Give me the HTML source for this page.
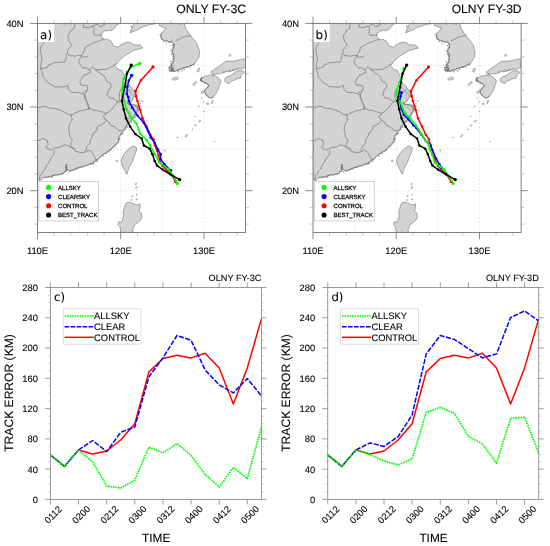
<!DOCTYPE html>
<html lang="en">
<head>
<meta charset="utf-8">
<title>Typhoon track comparison</title>
<style>
html,body{margin:0;padding:0;background:#fff;}
body{width:550px;height:546px;overflow:hidden;}
svg{display:block;}
.t{font-family:"Liberation Sans",Arial,Helvetica,sans-serif;text-rendering:geometricPrecision;fill:#000;stroke:#000;stroke-width:0.1px;}
.dj{font-family:"DejaVu Sans",Verdana,sans-serif;text-rendering:geometricPrecision;fill:#000;stroke:#000;stroke-width:0.08px;}
</style>
</head>
<body>
<svg width="550" height="546" viewBox="0 0 550 546">
<rect width="550" height="546" fill="#fff"/>
<g transform="translate(0,0)">
<clipPath id="clipa"><rect x="37.5" y="23.4" width="208.1" height="209.1"/></clipPath>
<g clip-path="url(#clipa)">
<path d="M79.1,23.4 V232.5 M120.7,23.4 V232.5 M162.4,23.4 V232.5 M204.0,23.4 V232.5 M37.5,190.7 H245.6 M37.5,148.9 H245.6 M37.5,107.0 H245.6 M37.5,65.2 H245.6" stroke="#d9d9d9" stroke-width="0.6" stroke-dasharray="2 1.8" fill="none"/>
<path d="M37.4,23.5 L39.8,23.4 L41.1,23.5 L42.6,23.4 L44.9,23.7 L46.1,23.2 L47.9,23.7 L50.3,22.9 L52.4,23.9 L53.9,23.5 L55.1,22.9 L57.4,22.9 L58.8,23.1 L60.4,23.4 L62.7,23.8 L64.6,23.6 L66.3,23.6 L68.1,23.2 L70.5,23.9 L72.1,23.6 L73.3,23.1 L75.1,22.9 L77.4,23.3 L79.3,23.3 L81.3,23.8 L82.0,23.1 L84.8,23.4 L86.7,23.3 L87.5,23.5 L90.1,23.1 L91.1,23.2 L93.9,23.7 L94.7,23.1 L96.5,22.9 L99.1,23.0 L100.6,23.3 L102.0,23.7 L103.8,23.6 L105.6,23.3 L107.5,23.1 L110.1,23.7 L111.2,23.8 L112.9,23.3 L115.4,23.6 L116.4,23.9 L118.3,23.1 L120.7,23.2 L118.2,24.2 L116.0,26.0 L115.2,27.5 L114.3,28.8 L112.9,29.6 L110.5,30.7 L108.1,30.1 L107.0,31.0 L104.3,30.6 L103.3,32.3 L101.1,33.3 L101.2,36.1 L102.6,38.2 L104.7,39.4 L107.5,39.4 L110.7,40.9 L112.4,43.5 L113.8,46.5 L115.7,46.3 L118.2,47.3 L120.7,44.8 L123.3,43.7 L124.6,42.8 L127.3,42.3 L129.2,42.3 L131.6,43.0 L133.3,44.8 L135.9,44.9 L137.5,45.1 L139.2,44.8 L141.3,46.1 L142.6,48.1 L139.4,48.9 L137.9,49.4 L135.8,50.0 L133.6,50.2 L132.5,51.2 L130.9,52.0 L129.3,53.2 L127.2,53.9 L126.2,55.0 L124.1,56.2 L123.0,57.3 L121.1,58.7 L119.5,60.5 L117.3,62.2 L116.7,64.0 L114.5,65.4 L116.5,67.5 L118.6,69.8 L121.6,70.3 L122.4,72.3 L123.7,74.1 L124.7,76.2 L125.3,78.5 L125.6,79.4 L126.8,82.3 L127.8,83.9 L130.2,86.1 L131.3,88.0 L132.6,89.1 L133.9,90.2 L135.6,93.6 L135.1,95.7 L134.0,97.2 L132.7,99.1 L131.8,100.9 L130.0,102.4 L127.4,102.6 L129.7,104.4 L132.8,104.5 L135.1,105.4 L136.7,106.7 L139.1,108.4 L137.3,109.6 L137.3,111.3 L136.3,113.5 L135.1,115.4 L133.7,116.3 L133.1,117.9 L132.4,119.7 L130.5,121.1 L129.0,123.3 L127.2,125.3 L126.0,127.9 L124.5,129.4 L122.9,130.9 L121.1,132.9 L120.6,134.4 L118.8,136.5 L119.1,138.8 L118.8,141.2 L117.6,142.8 L117.2,143.6 L115.3,145.9 L112.5,147.2 L111.1,149.4 L109.0,150.6 L107.6,152.1 L105.8,153.1 L103.5,154.0 L101.6,156.0 L100.0,157.4 L97.9,159.2 L97.1,160.6 L95.0,161.7 L92.5,163.2 L91.1,163.5 L88.3,164.5 L87.2,165.5 L85.4,165.3 L84.0,166.0 L81.5,166.8 L78.4,168.1 L76.5,168.0 L75.2,169.3 L73.9,169.9 L72.0,170.3 L70.1,170.5 L66.2,169.5 L66.1,167.3 L66.4,164.6 L66.4,166.6 L65.7,168.3 L66.2,170.7 L63.9,172.3 L63.1,173.6 L60.4,173.9 L58.1,174.9 L55.6,174.7 L53.4,175.5 L50.2,176.5 L47.9,176.8 L45.5,177.0 L42.7,178.0 L41.5,179.2 L39.0,179.3 L37.2,179.9 L37.8,180.4 L37.5,178.0 L37.2,176.5 L38.0,174.2 L37.8,172.3 L37.2,170.7 L37.7,169.0 L37.3,167.5 L37.1,165.9 L37.1,163.8 L37.2,161.7 L37.5,160.1 L37.4,158.3 L37.5,156.2 L37.2,154.9 L37.7,153.0 L37.9,151.3 L37.9,149.1 L37.8,147.9 L37.9,145.6 L37.3,144.5 L37.2,142.7 L37.9,140.0 L37.2,138.8 L37.2,136.4 L37.9,134.9 L37.8,132.8 L37.4,131.6 L37.0,129.3 L37.7,128.3 L38.0,125.6 L37.5,124.5 L37.5,122.6 L37.2,120.1 L37.1,118.3 L37.6,117.0 L37.6,114.8 L37.2,113.1 L37.9,112.1 L38.0,109.4 L37.0,108.5 L37.5,106.5 L37.3,104.4 L37.5,102.5 L37.6,100.3 L37.7,99.4 L37.1,97.1 L37.8,95.3 L37.2,93.2 L37.5,91.3 L37.9,90.3 L37.7,88.6 L37.6,86.3 L37.6,84.6 L38.0,83.1 L37.2,81.5 L37.8,79.5 L37.8,77.3 L37.9,76.0 L37.7,74.1 L37.8,71.9 L37.7,69.7 L37.3,68.4 L37.0,66.4 L37.7,64.9 L37.2,63.5 L37.7,61.0 L37.7,59.5 L37.5,57.5 L38.0,56.0 L37.7,54.3 L38.0,51.7 L37.6,50.7 L37.2,48.5 L37.0,46.5 L37.4,44.6 L37.2,43.6 L37.6,41.4 L38.0,39.7 L38.0,38.0 L37.8,35.5 L37.6,34.5 L37.0,32.9 L37.1,30.6 L37.1,28.8 L37.6,26.5 L38.0,25.1Z M134.3,23.5 L133.1,25.4 L132.0,28.2 L131.1,30.6 L130.1,32.9 L133.5,31.3 L136.0,30.5 L138.5,29.5 L140.3,27.9 L142.8,27.0 L144.7,26.3 L147.3,25.6 L149.1,24.7 L151.1,24.6 L153.1,24.1 L155.1,23.8 L156.9,23.6 L155.1,23.3 L152.9,23.4 L151.6,23.2 L149.5,23.5 L147.4,23.2 L145.8,23.4 L143.8,23.4 L141.7,23.5 L140.2,23.4 L138.1,23.6 L136.6,23.4Z M159.2,23.6 L159.0,25.4 L160.3,26.0 L162.5,26.7 L165.5,27.8 L164.7,29.8 L163.6,31.4 L161.1,33.9 L160.4,36.3 L161.7,39.4 L164.4,40.4 L168.1,41.3 L169.3,42.5 L171.7,42.0 L174.1,44.1 L173.8,46.2 L172.5,48.6 L172.4,51.8 L173.8,54.9 L173.9,58.8 L172.8,61.6 L171.8,64.9 L170.9,67.6 L171.9,71.1 L174.7,71.5 L176.7,70.5 L180.2,69.6 L182.8,67.8 L185.0,67.5 L187.4,66.8 L188.5,66.5 L190.8,65.5 L192.5,64.5 L194.6,63.9 L195.6,62.0 L197.0,60.6 L197.8,58.6 L199.0,57.3 L199.1,55.2 L199.6,53.1 L199.5,51.9 L199.2,50.0 L198.2,48.0 L197.8,45.3 L197.2,44.4 L195.5,42.2 L195.0,40.6 L193.2,38.7 L191.7,37.7 L191.4,36.5 L189.6,33.9 L188.1,33.1 L187.7,31.3 L186.1,29.6 L185.1,26.5 L184.3,24.0 L183.1,23.2 L180.7,23.9 L178.9,24.0 L177.3,23.7 L175.7,23.2 L173.4,23.3 L172.0,23.7 L169.7,23.9 L168.2,23.2 L166.4,23.9 L164.7,23.6 L163.2,23.9 L161.3,23.3Z M211.2,71.3 L213.3,70.4 L214.9,69.0 L216.4,68.0 L218.2,66.8 L219.6,65.8 L221.4,64.4 L223.7,62.9 L225.1,61.7 L227.1,61.1 L229.6,61.1 L231.8,61.0 L234.0,61.1 L235.7,60.7 L238.0,60.2 L240.1,59.6 L241.8,59.4 L243.6,59.0 L245.7,59.2 L245.8,61.2 L245.5,63.3 L245.3,65.3 L245.5,67.1 L243.3,68.3 L241.3,69.2 L239.6,69.1 L237.4,69.2 L235.5,69.7 L233.5,70.4 L231.5,70.9 L230.2,71.1 L228.1,71.8 L225.7,71.6 L224.3,72.7 L222.3,72.9 L219.6,73.6 L217.3,73.9 L214.7,74.3 L212.5,74.5 L211.1,73.4Z M201.5,77.7 L203.7,77.2 L205.4,76.2 L208.2,75.7 L210.5,75.1 L212.5,75.5 L214.3,75.4 L216.6,76.5 L218.2,77.8 L219.7,79.0 L220.9,80.9 L220.4,82.8 L220.1,84.5 L219.0,86.4 L218.6,88.4 L217.6,90.4 L216.5,92.5 L215.6,93.7 L214.6,95.6 L212.7,96.6 L211.5,98.1 L207.9,96.8 L206.6,95.7 L205.5,94.0 L204.4,90.8 L206.1,88.2 L207.6,87.0 L208.7,85.7 L206.8,83.4 L204.2,82.7 L201.7,80.8 L200.5,78.6Z M224.4,79.2 L225.8,78.0 L227.6,76.6 L229.5,76.1 L231.4,75.3 L232.9,73.6 L235.1,72.3 L236.8,71.3 L239.0,70.7 L240.9,70.7 L243.0,71.2 L244.4,72.4 L243.0,73.4 L241.4,74.9 L240.1,78.5 L238.3,78.4 L236.5,79.1 L234.3,80.1 L232.1,80.6 L230.6,82.3 L229.3,83.4 L226.6,82.7 L224.9,81.2Z M134.0,146.0 L136.7,147.9 L136.0,151.9 L135.3,153.8 L134.5,155.5 L133.7,157.7 L132.9,160.0 L132.0,162.2 L130.8,164.2 L130.1,166.0 L128.8,167.8 L128.4,169.7 L127.6,171.6 L127.0,174.3 L125.7,172.9 L124.6,169.9 L122.5,166.3 L122.1,164.7 L121.4,162.7 L121.2,160.0 L122.5,156.9 L124.3,153.8 L126.5,151.0 L129.1,148.6 L131.7,146.7Z M126.4,202.8 L129.9,202.1 L131.7,203.1 L133.6,203.6 L135.1,204.4 L137.4,205.0 L139.9,203.7 L140.1,207.4 L139.5,209.3 L138.9,211.1 L141.4,213.3 L141.9,216.7 L140.8,219.7 L139.2,221.4 L138.0,222.3 L136.0,223.7 L134.7,224.7 L133.3,227.8 L132.4,230.4 L133.2,232.2 L131.4,232.5 L129.7,232.6 L127.9,232.5 L126.3,232.1 L124.3,232.6 L122.5,232.2 L120.5,232.5 L120.4,230.2 L120.0,226.9 L117.9,224.5 L118.9,221.7 L121.2,222.6 L122.6,219.8 L122.9,218.1 L123.7,216.0 L123.4,214.2 L123.3,212.1 L123.4,210.5 L124.4,208.0 L125.1,205.2Z" fill="#d3d3d3" stroke="#7c7c7c" stroke-width="0.65" stroke-linejoin="round"/>
<ellipse cx="175.3" cy="78.6" rx="3.2" ry="1.4" transform="rotate(-12 175.3 78.6)" fill="#d3d3d3" stroke="#7c7c7c" stroke-width="0.45"/>
<ellipse cx="198.5" cy="70.0" rx="0.9" ry="2.4" transform="rotate(25 198.5 70.0)" fill="#d3d3d3" stroke="#7c7c7c" stroke-width="0.45"/>
<ellipse cx="194.7" cy="83.5" rx="0.9" ry="2.6" transform="rotate(45 194.7 83.5)" fill="#d3d3d3" stroke="#7c7c7c" stroke-width="0.45"/>
<ellipse cx="229.9" cy="55.4" rx="1.3" ry="0.8" transform="rotate(-30 229.9 55.4)" fill="#d3d3d3" stroke="#7c7c7c" stroke-width="0.45"/>
<ellipse cx="212.2" cy="101.9" rx="0.6" ry="2.0" transform="rotate(12 212.2 101.9)" fill="#d3d3d3" stroke="#7c7c7c" stroke-width="0.45"/>
<ellipse cx="207.8" cy="103.8" rx="1.2" ry="1.0" transform="rotate(0 207.8 103.8)" fill="#d3d3d3" stroke="#7c7c7c" stroke-width="0.45"/>
<ellipse cx="202.3" cy="92.3" rx="1.4" ry="1.0" transform="rotate(-30 202.3 92.3)" fill="#d3d3d3" stroke="#7c7c7c" stroke-width="0.45"/>
<ellipse cx="116.8" cy="160.8" rx="0.9" ry="0.9" transform="rotate(0 116.8 160.8)" fill="#d3d3d3" stroke="#7c7c7c" stroke-width="0.45"/>
<ellipse cx="136.0" cy="184.0" rx="0.5" ry="1.0" transform="rotate(20 136.0 184.0)" fill="#d3d3d3" stroke="#7c7c7c" stroke-width="0.45"/>
<ellipse cx="136.3" cy="187.6" rx="0.6" ry="1.1" transform="rotate(30 136.3 187.6)" fill="#d3d3d3" stroke="#7c7c7c" stroke-width="0.45"/>
<ellipse cx="132.2" cy="196.2" rx="0.7" ry="0.6" transform="rotate(0 132.2 196.2)" fill="#d3d3d3" stroke="#7c7c7c" stroke-width="0.45"/>
<ellipse cx="136.7" cy="194.9" rx="0.5" ry="0.5" transform="rotate(0 136.7 194.9)" fill="#d3d3d3" stroke="#7c7c7c" stroke-width="0.45"/>
<ellipse cx="131.5" cy="200.0" rx="0.6" ry="0.6" transform="rotate(0 131.5 200.0)" fill="#d3d3d3" stroke="#7c7c7c" stroke-width="0.45"/>
<ellipse cx="136.7" cy="199.4" rx="0.7" ry="0.6" transform="rotate(0 136.7 199.4)" fill="#d3d3d3" stroke="#7c7c7c" stroke-width="0.45"/>
<ellipse cx="137.3" cy="106.8" rx="1.6" ry="1.2" transform="rotate(30 137.3 106.8)" fill="#d3d3d3" stroke="#7c7c7c" stroke-width="0.45"/>
<ellipse cx="171.0" cy="69.4" rx="2.0" ry="2.2" transform="rotate(0 171.0 69.4)" fill="#d3d3d3" stroke="#7c7c7c" stroke-width="0.45"/>
<ellipse cx="132.2" cy="27.7" rx="0.8" ry="0.6" transform="rotate(0 132.2 27.7)" fill="#d3d3d3" stroke="#7c7c7c" stroke-width="0.45"/>
<ellipse cx="186.3" cy="135.8" rx="0.7" ry="1.6" transform="rotate(40 186.3 135.8)" fill="#d3d3d3" stroke="#7c7c7c" stroke-width="0.45"/>
<ellipse cx="214.6" cy="141.5" rx="0.5" ry="0.4" transform="rotate(0 214.6 141.5)" fill="#d3d3d3" stroke="#7c7c7c" stroke-width="0.45"/>
<ellipse cx="177.6" cy="137.6" rx="0.6" ry="0.45" transform="rotate(0 177.6 137.6)" fill="#d3d3d3" stroke="#7c7c7c" stroke-width="0.45"/>
<ellipse cx="199.8" cy="121.2" rx="1.3" ry="0.6" transform="rotate(-35 199.8 121.2)" fill="#d3d3d3" stroke="#7c7c7c" stroke-width="0.45"/>
<ellipse cx="195.6" cy="125.4" rx="0.6" ry="0.8" transform="rotate(0 195.6 125.4)" fill="#d3d3d3" stroke="#7c7c7c" stroke-width="0.45"/>
<ellipse cx="192.5" cy="129.3" rx="0.5" ry="0.5" transform="rotate(0 192.5 129.3)" fill="#d3d3d3" stroke="#7c7c7c" stroke-width="0.45"/>
<ellipse cx="164.8" cy="150.5" rx="0.8" ry="0.5" transform="rotate(-20 164.8 150.5)" fill="#d3d3d3" stroke="#7c7c7c" stroke-width="0.45"/>
<ellipse cx="201.7" cy="98.0" rx="0.45" ry="0.45" transform="rotate(0 201.7 98.0)" fill="#d3d3d3" stroke="#7c7c7c" stroke-width="0.45"/>
<ellipse cx="203.6" cy="102.0" rx="0.4" ry="0.4" transform="rotate(0 203.6 102.0)" fill="#d3d3d3" stroke="#7c7c7c" stroke-width="0.45"/>
<ellipse cx="199.0" cy="106.4" rx="0.4" ry="0.4" transform="rotate(0 199.0 106.4)" fill="#d3d3d3" stroke="#7c7c7c" stroke-width="0.45"/>
<ellipse cx="204.0" cy="111.5" rx="0.4" ry="0.4" transform="rotate(0 204.0 111.5)" fill="#d3d3d3" stroke="#7c7c7c" stroke-width="0.45"/>
<ellipse cx="195.0" cy="116.7" rx="0.45" ry="0.4" transform="rotate(0 195.0 116.7)" fill="#d3d3d3" stroke="#7c7c7c" stroke-width="0.45"/>
<g fill="#808080"><circle cx="128.0" cy="102.7" r="0.62"/><circle cx="128.9" cy="103.8" r="0.65"/><circle cx="131.0" cy="103.6" r="0.40"/><circle cx="134.3" cy="103.4" r="0.39"/><circle cx="135.7" cy="105.3" r="0.43"/><circle cx="136.7" cy="104.6" r="0.43"/><circle cx="138.0" cy="106.5" r="0.73"/><circle cx="139.6" cy="109.4" r="0.75"/><circle cx="138.3" cy="112.0" r="0.61"/><circle cx="137.2" cy="113.6" r="0.43"/><circle cx="135.6" cy="115.3" r="0.48"/><circle cx="135.2" cy="117.6" r="0.73"/><circle cx="131.3" cy="122.4" r="0.57"/><circle cx="129.5" cy="124.8" r="0.59"/><circle cx="127.3" cy="127.5" r="0.61"/><circle cx="125.7" cy="129.7" r="0.53"/><circle cx="123.6" cy="132.9" r="0.40"/><circle cx="122.2" cy="133.9" r="0.69"/><circle cx="119.8" cy="138.7" r="0.60"/><circle cx="118.8" cy="139.7" r="0.64"/><circle cx="115.5" cy="147.2" r="0.49"/><circle cx="113.9" cy="146.8" r="0.42"/><circle cx="113.6" cy="148.5" r="0.37"/><circle cx="110.9" cy="150.6" r="0.47"/><circle cx="109.1" cy="151.7" r="0.56"/><circle cx="106.5" cy="153.6" r="0.53"/><circle cx="103.2" cy="155.9" r="0.65"/><circle cx="97.2" cy="159.5" r="0.52"/><circle cx="96.9" cy="160.2" r="0.52"/><circle cx="93.5" cy="163.5" r="0.68"/><circle cx="92.5" cy="164.3" r="0.45"/><circle cx="90.5" cy="164.2" r="0.51"/><circle cx="88.6" cy="164.8" r="0.49"/><circle cx="85.2" cy="165.8" r="0.45"/><circle cx="79.6" cy="167.3" r="0.54"/><circle cx="77.9" cy="167.8" r="0.35"/><circle cx="76.5" cy="168.9" r="0.72"/><circle cx="73.8" cy="169.7" r="0.59"/><circle cx="71.0" cy="171.4" r="0.43"/><circle cx="68.1" cy="171.9" r="0.62"/><circle cx="65.4" cy="167.3" r="0.57"/><circle cx="65.0" cy="165.6" r="0.45"/><circle cx="67.0" cy="167.5" r="0.48"/><circle cx="66.0" cy="171.0" r="0.75"/><circle cx="64.9" cy="171.7" r="0.37"/><circle cx="63.5" cy="173.5" r="0.41"/><circle cx="61.5" cy="174.5" r="0.54"/><circle cx="54.0" cy="175.2" r="0.69"/><circle cx="52.5" cy="177.1" r="0.48"/><circle cx="51.5" cy="177.4" r="0.62"/><circle cx="48.3" cy="177.3" r="0.51"/><circle cx="41.1" cy="180.0" r="0.53"/><circle cx="39.9" cy="180.6" r="0.70"/><circle cx="38.4" cy="179.8" r="0.49"/><circle cx="134.7" cy="90.4" r="0.71"/><circle cx="136.6" cy="95.5" r="0.56"/><circle cx="131.2" cy="100.8" r="0.35"/><circle cx="159.3" cy="34.7" r="0.46"/><circle cx="163.6" cy="41.4" r="0.55"/><circle cx="166.1" cy="43.3" r="0.60"/><circle cx="168.1" cy="42.8" r="0.37"/><circle cx="172.2" cy="45.2" r="0.57"/><circle cx="171.8" cy="45.6" r="0.46"/><circle cx="172.2" cy="46.7" r="0.40"/><circle cx="173.1" cy="47.7" r="0.35"/><circle cx="172.1" cy="49.2" r="0.42"/><circle cx="170.7" cy="50.2" r="0.65"/><circle cx="172.3" cy="52.3" r="0.40"/><circle cx="172.6" cy="53.9" r="0.43"/><circle cx="173.0" cy="56.5" r="0.54"/><circle cx="172.4" cy="58.1" r="0.47"/><circle cx="173.3" cy="59.0" r="0.66"/><circle cx="173.2" cy="61.6" r="0.57"/><circle cx="170.9" cy="61.5" r="0.63"/><circle cx="170.9" cy="63.7" r="0.36"/><circle cx="170.0" cy="65.5" r="0.54"/><circle cx="170.8" cy="67.2" r="0.70"/><circle cx="171.6" cy="71.3" r="0.67"/><circle cx="174.4" cy="71.4" r="0.63"/><circle cx="178.4" cy="71.7" r="0.74"/><circle cx="182.1" cy="70.7" r="0.70"/><circle cx="184.4" cy="69.6" r="0.60"/><circle cx="186.0" cy="67.5" r="0.58"/><circle cx="187.4" cy="66.9" r="0.73"/><circle cx="190.1" cy="67.5" r="0.58"/><circle cx="193.7" cy="64.9" r="0.72"/><circle cx="207.3" cy="95.1" r="0.47"/><circle cx="206.2" cy="94.8" r="0.46"/><circle cx="205.5" cy="89.9" r="0.57"/><circle cx="205.1" cy="82.7" r="0.56"/><circle cx="201.4" cy="79.8" r="0.68"/><circle cx="237.7" cy="68.6" r="0.65"/><circle cx="234.3" cy="69.5" r="0.58"/><circle cx="227.6" cy="71.3" r="0.36"/><circle cx="225.6" cy="71.7" r="0.41"/><circle cx="224.3" cy="71.3" r="0.38"/><circle cx="223.0" cy="71.7" r="0.57"/><circle cx="213.0" cy="73.2" r="0.55"/><circle cx="131.3" cy="26.3" r="0.72"/><circle cx="130.9" cy="30.8" r="0.64"/></g>
<clipPath id="landa"><path d="M37.4,23.5 L39.8,23.4 L41.1,23.5 L42.6,23.4 L44.9,23.7 L46.1,23.2 L47.9,23.7 L50.3,22.9 L52.4,23.9 L53.9,23.5 L55.1,22.9 L57.4,22.9 L58.8,23.1 L60.4,23.4 L62.7,23.8 L64.6,23.6 L66.3,23.6 L68.1,23.2 L70.5,23.9 L72.1,23.6 L73.3,23.1 L75.1,22.9 L77.4,23.3 L79.3,23.3 L81.3,23.8 L82.0,23.1 L84.8,23.4 L86.7,23.3 L87.5,23.5 L90.1,23.1 L91.1,23.2 L93.9,23.7 L94.7,23.1 L96.5,22.9 L99.1,23.0 L100.6,23.3 L102.0,23.7 L103.8,23.6 L105.6,23.3 L107.5,23.1 L110.1,23.7 L111.2,23.8 L112.9,23.3 L115.4,23.6 L116.4,23.9 L118.3,23.1 L120.7,23.2 L118.2,24.2 L116.0,26.0 L115.2,27.5 L114.3,28.8 L112.9,29.6 L110.5,30.7 L108.1,30.1 L107.0,31.0 L104.3,30.6 L103.3,32.3 L101.1,33.3 L101.2,36.1 L102.6,38.2 L104.7,39.4 L107.5,39.4 L110.7,40.9 L112.4,43.5 L113.8,46.5 L115.7,46.3 L118.2,47.3 L120.7,44.8 L123.3,43.7 L124.6,42.8 L127.3,42.3 L129.2,42.3 L131.6,43.0 L133.3,44.8 L135.9,44.9 L137.5,45.1 L139.2,44.8 L141.3,46.1 L142.6,48.1 L139.4,48.9 L137.9,49.4 L135.8,50.0 L133.6,50.2 L132.5,51.2 L130.9,52.0 L129.3,53.2 L127.2,53.9 L126.2,55.0 L124.1,56.2 L123.0,57.3 L121.1,58.7 L119.5,60.5 L117.3,62.2 L116.7,64.0 L114.5,65.4 L116.5,67.5 L118.6,69.8 L121.6,70.3 L122.4,72.3 L123.7,74.1 L124.7,76.2 L125.3,78.5 L125.6,79.4 L126.8,82.3 L127.8,83.9 L130.2,86.1 L131.3,88.0 L132.6,89.1 L133.9,90.2 L135.6,93.6 L135.1,95.7 L134.0,97.2 L132.7,99.1 L131.8,100.9 L130.0,102.4 L127.4,102.6 L129.7,104.4 L132.8,104.5 L135.1,105.4 L136.7,106.7 L139.1,108.4 L137.3,109.6 L137.3,111.3 L136.3,113.5 L135.1,115.4 L133.7,116.3 L133.1,117.9 L132.4,119.7 L130.5,121.1 L129.0,123.3 L127.2,125.3 L126.0,127.9 L124.5,129.4 L122.9,130.9 L121.1,132.9 L120.6,134.4 L118.8,136.5 L119.1,138.8 L118.8,141.2 L117.6,142.8 L117.2,143.6 L115.3,145.9 L112.5,147.2 L111.1,149.4 L109.0,150.6 L107.6,152.1 L105.8,153.1 L103.5,154.0 L101.6,156.0 L100.0,157.4 L97.9,159.2 L97.1,160.6 L95.0,161.7 L92.5,163.2 L91.1,163.5 L88.3,164.5 L87.2,165.5 L85.4,165.3 L84.0,166.0 L81.5,166.8 L78.4,168.1 L76.5,168.0 L75.2,169.3 L73.9,169.9 L72.0,170.3 L70.1,170.5 L66.2,169.5 L66.1,167.3 L66.4,164.6 L66.4,166.6 L65.7,168.3 L66.2,170.7 L63.9,172.3 L63.1,173.6 L60.4,173.9 L58.1,174.9 L55.6,174.7 L53.4,175.5 L50.2,176.5 L47.9,176.8 L45.5,177.0 L42.7,178.0 L41.5,179.2 L39.0,179.3 L37.2,179.9 L37.8,180.4 L37.5,178.0 L37.2,176.5 L38.0,174.2 L37.8,172.3 L37.2,170.7 L37.7,169.0 L37.3,167.5 L37.1,165.9 L37.1,163.8 L37.2,161.7 L37.5,160.1 L37.4,158.3 L37.5,156.2 L37.2,154.9 L37.7,153.0 L37.9,151.3 L37.9,149.1 L37.8,147.9 L37.9,145.6 L37.3,144.5 L37.2,142.7 L37.9,140.0 L37.2,138.8 L37.2,136.4 L37.9,134.9 L37.8,132.8 L37.4,131.6 L37.0,129.3 L37.7,128.3 L38.0,125.6 L37.5,124.5 L37.5,122.6 L37.2,120.1 L37.1,118.3 L37.6,117.0 L37.6,114.8 L37.2,113.1 L37.9,112.1 L38.0,109.4 L37.0,108.5 L37.5,106.5 L37.3,104.4 L37.5,102.5 L37.6,100.3 L37.7,99.4 L37.1,97.1 L37.8,95.3 L37.2,93.2 L37.5,91.3 L37.9,90.3 L37.7,88.6 L37.6,86.3 L37.6,84.6 L38.0,83.1 L37.2,81.5 L37.8,79.5 L37.8,77.3 L37.9,76.0 L37.7,74.1 L37.8,71.9 L37.7,69.7 L37.3,68.4 L37.0,66.4 L37.7,64.9 L37.2,63.5 L37.7,61.0 L37.7,59.5 L37.5,57.5 L38.0,56.0 L37.7,54.3 L38.0,51.7 L37.6,50.7 L37.2,48.5 L37.0,46.5 L37.4,44.6 L37.2,43.6 L37.6,41.4 L38.0,39.7 L38.0,38.0 L37.8,35.5 L37.6,34.5 L37.0,32.9 L37.1,30.6 L37.1,28.8 L37.6,26.5 L38.0,25.1Z"/></clipPath>
<path d="M137.1,97.4 L137.8,98.5 L137.1,99.6 L135.8,99.4 M130.4,105.5 L130.7,104.2 L129.7,103.3 L130.1,102.1 M129.6,114.5 L128.6,115.3 L128.1,116.5 L128.8,117.6 L128.6,118.9 L128.4,120.2 L129.0,121.3 M129.8,88.8 L129.9,90.1 L129.9,91.4 L131.0,92.2 L131.3,93.4 L130.9,94.7 L131.4,95.9 M131.4,89.1 L131.3,87.8 L132.1,86.7 L133.3,86.9 M130.8,107.9 L131.6,107.0 L132.5,106.0 L133.8,106.0 M136.8,100.1 L135.5,100.3 L134.2,100.6 L133.0,100.2 L132.3,99.1 M132.1,119.2 L133.2,119.8 L133.8,121.0 L133.5,122.3 L133.5,123.6 L134.2,124.7 L134.9,125.8 M134.3,103.1 L133.0,103.0 L131.7,102.8 L131.0,103.8 M133.3,98.4 L134.0,97.3 L133.5,96.1 L132.8,95.0 L133.0,93.7 L133.9,92.7 L133.4,91.5 M127.6,89.1 L128.8,89.6 L128.8,90.9 L129.9,91.6 M137.8,94.4 L138.9,95.0 L140.1,94.6 L140.3,93.3 M137.9,109.5 L138.0,108.2 L137.5,107.0 L137.9,105.8 L137.2,104.7 L136.8,103.5 L135.8,102.6 M130.8,101.9 L132.1,102.1 L132.8,101.0 L132.4,99.7 L131.2,99.4 L130.7,98.1 L130.3,96.9 M135.6,113.3 L136.8,113.9 L137.0,115.2 L137.1,116.5 L136.2,117.5 L135.6,118.7 L134.4,118.9 M135.3,115.6 L134.2,116.2 L133.4,117.3 L132.1,117.2 M136.8,120.0 L138.0,119.5 L139.3,119.8 L140.3,120.6 L141.5,121.1 L142.7,121.7 L142.7,123.0 M130.6,120.0 L131.8,120.3 L133.1,119.9 L133.5,118.6 L132.8,117.5 L133.4,116.4 M135.9,93.4 L136.5,92.3 L137.8,92.1 L138.6,93.1 M128.9,110.2 L129.4,111.4 L130.4,112.3 L130.8,113.6 L130.5,114.8 M134.5,99.2 L134.2,97.9 L133.8,96.7 L133.8,95.4 L134.8,94.5 L134.4,93.2 M136.5,91.2 L135.5,92.1 L135.7,93.4 L136.3,94.6 M129.0,118.2 L129.1,116.9 L130.2,116.3 L131.5,116.1 L132.6,116.9 L133.5,117.8 M135.5,88.4 L134.3,88.0 L133.3,88.8 L132.0,89.0 L131.1,89.9 L130.1,90.7 L128.8,90.8 M131.4,94.0 L130.7,93.0 L129.7,92.1 L129.0,91.0 L128.6,89.8 L127.4,89.2 L126.7,88.1 M130.0,107.5 L131.3,107.9 L132.6,107.7 L133.3,108.8 L134.1,109.8 L135.0,110.8" fill="none" stroke="#9a9a9a" stroke-width="0.5" clip-path="url(#landa)"/>
<path d="M127.4,102.6 L128.2,104.4 L129.9,104.9 L131.0,104.4 L132.3,104.7 L133.5,104.8 L134.6,104.9 L134.5,104.9 L136.3,105.4 L137.1,106.5 L137.1,107.8 L137.9,109.1 L138.5,109.2 L137.8,111.0 L136.3,112.1 L135.8,113.5 L136.1,114.7 L134.6,114.8 L134.7,116.4 L133.4,117.9 L133.6,118.1 L131.8,119.7 L131.5,120.8 L130.9,121.4 L129.2,122.0 L128.8,123.7 L127.9,124.6 L127.2,125.7 L126.8,125.8 L125.4,126.3 L124.7,128.4 L125.4,129.2 L123.7,129.9 L123.1,131.1 L123.2,131.7 L122.4,132.0 L122.1,133.6 L120.6,133.8 L120.7,135.1 L119.6,135.7 L119.8,136.4 L118.6,138.0 L118.6,139.4 L118.5,140.5 L118.5,141.5 L118.4,142.3 L117.0,142.5 L116.1,143.6 L116.3,144.1 L114.8,145.5 L113.9,145.8 L113.3,146.9 L112.3,148.0 L112.1,148.4 L111.1,148.9 L110.8,150.3 L109.6,149.8 L108.3,151.8 L107.4,151.8 L106.5,152.0 L105.6,153.5 L103.7,153.7 L103.5,154.1 L102.6,155.6 L102.0,155.3 L100.1,156.9 L100.0,157.7 L99.6,157.7 L98.3,158.5 L97.8,159.7 L96.2,160.1 L95.9,160.3 L94.5,161.4 L93.2,162.0 L93.4,163.2 L91.1,163.7 L91.1,164.0 L89.1,164.5 L88.3,165.1 L87.5,164.8 L86.3,165.9 L85.3,166.3 L84.7,165.6 L83.9,166.5 L82.0,167.2 L81.3,166.3 L81.0,167.6 L79.4,167.1 L78.6,167.9 L77.9,168.2 L76.7,168.9 L75.1,168.5 L74.5,169.7 L74.0,170.2 L72.4,170.3 L71.0,170.2 L69.9,171.2 L70.3,171.3 L68.9,170.3 L68.0,169.4 L66.3,169.3 L67.0,167.8 L65.8,166.4 L66.8,165.5 L66.8,164.3 L66.6,165.3 L66.6,167.6 L66.5,168.3 L66.5,169.8 L66.5,170.0 L65.5,171.5 L64.0,171.5 L64.0,172.7 L62.6,174.2 L61.5,173.6 L60.6,174.3 L58.9,174.9 L58.7,174.5 L57.5,175.4 L56.1,174.7 L55.2,174.9 L53.6,175.9 L52.6,174.9 L52.4,176.5 L50.6,175.9 L49.9,176.7 L48.1,176.8 L47.4,177.4 L46.7,177.7 L45.7,177.6 L44.0,177.1 L43.4,177.6 L42.7,178.1 M161.6,32.8 L160.8,34.4 L161.1,36.2 L161.8,36.5 L161.6,37.5 L161.7,39.2 L162.7,39.4 L164.8,40.6 L165.3,41.1 L167.2,40.7 L168.2,42.1 L168.9,41.5 L171.0,42.0 L171.1,41.8 L173.1,43.2 L174.0,44.0 L174.0,45.7 L174.0,46.4 L174.0,47.7 L173.4,48.9 L173.0,49.3 L172.1,50.7 L171.7,51.7 L172.2,52.9 L173.4,54.0 L173.4,54.9 L173.5,57.0 L174.2,57.6 L173.7,58.8 L173.3,59.4 L174.0,60.8 L173.0,62.0 L173.0,63.2 L171.7,63.2 L171.4,64.6 L171.1,66.6 L171.8,66.8 L171.2,68.0 L171.9,69.3 L171.4,70.2 L173.0,70.6 L174.3,71.9 L175.4,70.6 L177.5,70.6 L177.3,69.6 L178.4,70.0 L180.4,69.3 L180.5,68.8 L182.8,68.6 L183.9,68.6 L183.5,68.1 L185.4,67.5 L185.8,67.3 L186.6,66.7 L188.0,67.1 L189.5,65.8 L190.0,65.4 L191.5,66.0 L191.6,65.2 L193.0,64.1 L194.1,64.1 L194.7,63.6 M213.9,95.7 L213.3,96.1 L213.1,97.2 L212.0,97.4 L210.7,98.0 L210.1,98.1 L209.2,97.5 L208.0,96.4 L207.7,96.3 L206.2,94.6 L205.5,94.2 L205.4,93.2 L204.6,92.2 L204.1,90.5 L204.3,90.7 L205.9,89.1 L206.7,88.5 L206.6,88.1 L208.0,87.3 L208.9,85.4 L208.2,85.4 L207.9,84.0 L206.8,83.5 L205.1,83.4 L204.5,82.2 L203.5,81.9 L202.2,81.6 L202.3,80.9 L200.6,79.8 L200.7,79.3 L201.7,77.6" fill="none" stroke="#757575" stroke-width="0.8" stroke-linejoin="round"/>
<g fill="#6e6e6e"><circle cx="171.7" cy="69.3" r="0.81"/><circle cx="173.0" cy="69.3" r="0.87"/><circle cx="169.3" cy="67.5" r="0.87"/><circle cx="171.8" cy="70.4" r="0.50"/><circle cx="171.1" cy="66.1" r="0.69"/><circle cx="171.5" cy="64.6" r="0.55"/><circle cx="170.3" cy="70.5" r="0.79"/><circle cx="169.8" cy="69.7" r="0.51"/><circle cx="171.7" cy="65.3" r="0.45"/><circle cx="172.7" cy="65.9" r="0.55"/><circle cx="173.1" cy="70.2" r="0.58"/><circle cx="173.0" cy="68.0" r="0.76"/><circle cx="170.0" cy="70.6" r="0.76"/><circle cx="173.1" cy="70.3" r="0.58"/><circle cx="173.9" cy="54.8" r="0.52"/><circle cx="172.3" cy="40.0" r="0.58"/><circle cx="172.9" cy="53.7" r="0.48"/><circle cx="173.8" cy="44.9" r="0.63"/><circle cx="173.7" cy="47.5" r="0.54"/><circle cx="173.5" cy="43.5" r="0.54"/><circle cx="173.9" cy="44.8" r="0.63"/><circle cx="173.6" cy="55.2" r="0.47"/><circle cx="171.8" cy="54.4" r="0.63"/><circle cx="201.5" cy="78.3" r="0.74"/><circle cx="200.7" cy="80.2" r="0.61"/><circle cx="200.7" cy="80.0" r="0.47"/><circle cx="201.8" cy="77.8" r="0.49"/><circle cx="201.8" cy="81.6" r="0.51"/><circle cx="201.2" cy="80.6" r="0.88"/><circle cx="139.8" cy="106.7" r="0.44"/><circle cx="141.5" cy="100.6" r="0.49"/><circle cx="142.5" cy="101.5" r="0.62"/><circle cx="140.6" cy="103.2" r="0.57"/><circle cx="139.7" cy="105.8" r="0.43"/><circle cx="139.8" cy="100.1" r="0.49"/><circle cx="140.4" cy="106.3" r="0.53"/><circle cx="227.6" cy="70.9" r="0.40"/><circle cx="232.4" cy="70.0" r="0.53"/><circle cx="232.8" cy="70.2" r="0.54"/><circle cx="229.4" cy="70.1" r="0.48"/><circle cx="230.4" cy="71.1" r="0.60"/><circle cx="223.9" cy="70.6" r="0.39"/></g>
<path d="M74.9,23.9 L73.8,28.9 L70.8,30.5 L69.9,33.0 L67.7,35.9 L68.6,39.8 L69.3,41.1 L71.7,45.4 L67.9,49.4 L67.4,52.7 L69.1,55.6 L73.0,55.8 L75.1,56.4 L77.9,55.2 L81.1,55.7 L83.6,57.4 L88.2,56.3 M66.1,53.3 L66.5,56.3 L65.4,60.1 L64.8,62.0 L61.0,62.0 L56.9,62.6 L54.5,62.5 L52.4,63.8 L48.9,64.5 L47.8,67.0 L45.1,68.0 L40.4,68.6 M43.6,42.5 L40.4,48.0 L40.3,49.5 L40.7,52.7 L41.5,55.8 L42.0,59.3 L40.6,65.2 L40.7,69.3 L41.6,70.7 L42.6,74.6 L42.9,76.3 L45.1,79.4 L47.3,81.9 L49.4,83.6 L51.8,84.9 L54.0,86.7 L57.8,86.8 L62.6,87.1 L64.1,86.9 L67.9,85.4 L68.4,89.3 L71.7,92.4 L77.5,92.5 L82.2,93.6 L84.8,95.1 L85.5,97.6 L87.0,102.6 L88.2,106.1 L89.0,110.0 M103.7,39.8 L101.2,39.9 L97.4,41.7 L94.0,42.5 L90.1,44.7 L86.8,46.3 L84.8,47.7 L84.4,50.4 L82.8,53.3 L81.6,55.4 M83.6,24.2 L83.5,27.4 L88.5,27.7 L92.4,26.2 L94.2,28.6 L93.5,32.9 L94.7,35.4 L100.5,35.0 L102.2,34.8 M92.9,26.5 L97.0,24.1 L100.3,26.8 L101.8,26.1 L105.5,24.1 M82.0,54.9 L80.0,58.3 L78.6,61.4 L78.7,62.9 L80.7,65.4 L82.6,67.8 L86.5,68.0 L89.6,69.9 L92.3,67.0 L96.3,69.8 L99.9,69.6 L106.1,69.4 L110.2,67.6 L112.1,66.5 L115.0,64.6 L117.0,63.2 M89.3,69.7 L90.6,72.2 L86.2,74.5 L83.7,75.0 L82.1,78.0 L79.8,81.8 L80.9,85.0 L84.1,85.2 L87.1,85.6 L87.7,89.5 L84.8,91.7 L82.4,93.3 M94.9,69.7 L98.2,71.4 L99.9,73.5 L102.9,74.8 L105.3,77.5 L106.5,81.3 L110.4,83.1 L111.4,86.7 L108.5,90.0 L107.3,94.9 L109.6,97.8 L114.0,98.7 L116.5,101.1 L120.3,102.4 M38.0,107.9 L43.4,106.2 L46.1,106.7 L49.3,108.2 L52.0,108.2 L55.5,108.8 L60.1,110.0 L62.8,111.4 L65.5,112.7 L67.0,113.9 L71.5,115.3 L74.7,113.1 L77.8,112.1 L80.8,110.7 L83.8,110.4 L86.5,109.5 L89.4,108.3 L87.5,103.1 L85.9,100.5 L84.2,96.6 L85.9,92.4 L87.3,90.1 M89.1,107.8 L93.1,110.2 L96.7,110.3 L100.3,111.7 L103.8,112.3 L106.3,114.0 L103.4,115.8 L104.9,119.1 L107.1,120.6 M70.9,114.1 L72.3,120.1 L70.6,121.6 L69.5,125.1 L68.6,127.6 L68.7,129.1 L69.3,132.5 L69.9,136.2 L70.2,137.1 L72.4,140.2 L70.4,145.0 L72.3,148.1 L74.2,149.4 M106.4,120.1 L104.3,122.9 L102.2,124.3 L97.4,126.4 L97.0,128.9 L95.6,131.9 L93.3,133.0 L92.7,135.7 L90.2,139.5 L90.4,142.6 L89.3,144.0 L86.6,146.4 L86.5,148.7 L84.9,151.1 M107.2,120.8 L109.3,122.3 L110.7,125.4 L114.4,126.7 L116.5,128.6 L118.7,130.5 L122.0,130.5 M105.5,113.3 L108.5,112.2 L111.0,109.7 L113.2,108.1 L114.2,105.9 L117.0,102.7 L119.9,100.2 L119.2,97.1 L119.6,92.7 L120.3,90.1 M38.0,140.8 L40.8,139.8 L42.4,138.7 L47.1,140.0 L48.2,144.4 L45.7,147.6 L49.0,149.2 L51.5,150.1 L54.3,148.2 L56.4,147.6 L60.2,147.3 L64.3,144.8 L68.1,145.6 L70.7,147.1 L74.8,148.7 L75.2,151.2 L81.5,152.8 L85.4,151.9 L89.0,150.1 L92.1,152.3 L95.0,157.7 L96.4,160.6 L98.1,161.8 M54.1,150.2 L54.3,152.9 L53.2,155.6 L51.1,157.9 L49.0,162.2 L47.6,164.0 L46.2,166.0 L45.0,169.2 L42.5,171.4 L42.3,173.2 L39.8,175.8 L39.5,179.9 M175.8,40.5 L178.3,39.8 L182.5,37.3 L184.7,36.8 L187.1,36.0 L190.3,36.0" fill="none" stroke="#808080" stroke-width="0.8" stroke-linejoin="round"/>
<rect x="37.5" y="23.4" width="16.6" height="18.6" fill="#fff"/>
<rect x="38.9" y="181.3" width="59.8" height="39.6" fill="#fff" stroke="#b4b4b4" stroke-width="0.6"/>
<path d="M153.0,66.9 L141.0,80.2 L135.5,91.2 L136.1,96.2 L137.4,100.9 L140.2,110.1 L142.5,118.3 L146.6,126.6 L150.3,134.8 L153.5,139.4 L154.8,145.0 L157.0,150.5 L158.6,156.0 L159.7,161.5 L162.5,166.0 L169.0,172.5 L174.4,178.9 L175.8,181.6" fill="none" stroke="#ff0000" stroke-width="1.5" stroke-linejoin="round" stroke-linecap="round"/><circle cx="153.0" cy="66.9" r="1.25" fill="#ff0000"/><circle cx="141.0" cy="80.2" r="1.25" fill="#ff0000"/><circle cx="135.5" cy="91.2" r="1.25" fill="#ff0000"/><circle cx="136.1" cy="96.2" r="1.25" fill="#ff0000"/><circle cx="137.4" cy="100.9" r="1.25" fill="#ff0000"/><circle cx="140.2" cy="110.1" r="1.25" fill="#ff0000"/><circle cx="142.5" cy="118.3" r="1.25" fill="#ff0000"/><circle cx="146.6" cy="126.6" r="1.25" fill="#ff0000"/><circle cx="150.3" cy="134.8" r="1.25" fill="#ff0000"/><circle cx="153.5" cy="139.4" r="1.25" fill="#ff0000"/><circle cx="154.8" cy="145.0" r="1.25" fill="#ff0000"/><circle cx="157.0" cy="150.5" r="1.25" fill="#ff0000"/><circle cx="158.6" cy="156.0" r="1.25" fill="#ff0000"/><circle cx="159.7" cy="161.5" r="1.25" fill="#ff0000"/><circle cx="162.5" cy="166.0" r="1.25" fill="#ff0000"/><circle cx="169.0" cy="172.5" r="1.25" fill="#ff0000"/><circle cx="174.4" cy="178.9" r="1.25" fill="#ff0000"/><circle cx="175.8" cy="181.6" r="1.25" fill="#ff0000"/><circle cx="153.0" cy="66.9" r="1.6" fill="#ff0000"/><circle cx="175.8" cy="181.6" r="1.6" fill="#ff0000"/>
<path d="M131.7,75.3 L128.8,80.6 L127.4,86.6 L126.8,93.9 L128.3,97.1 L128.8,100.9 L132.4,107.8 L137.5,115.6 L143.9,122.9 L148.0,131.1 L150.8,137.5 L154.9,143.0 L157.9,149.6 L160.6,154.2 L160.6,159.2 L164.3,164.2 L170.7,170.6" fill="none" stroke="#0000ff" stroke-width="1.5" stroke-linejoin="round" stroke-linecap="round"/><circle cx="131.7" cy="75.3" r="1.25" fill="#0000ff"/><circle cx="128.8" cy="80.6" r="1.25" fill="#0000ff"/><circle cx="127.4" cy="86.6" r="1.25" fill="#0000ff"/><circle cx="126.8" cy="93.9" r="1.25" fill="#0000ff"/><circle cx="128.3" cy="97.1" r="1.25" fill="#0000ff"/><circle cx="128.8" cy="100.9" r="1.25" fill="#0000ff"/><circle cx="132.4" cy="107.8" r="1.25" fill="#0000ff"/><circle cx="137.5" cy="115.6" r="1.25" fill="#0000ff"/><circle cx="143.9" cy="122.9" r="1.25" fill="#0000ff"/><circle cx="148.0" cy="131.1" r="1.25" fill="#0000ff"/><circle cx="150.8" cy="137.5" r="1.25" fill="#0000ff"/><circle cx="154.9" cy="143.0" r="1.25" fill="#0000ff"/><circle cx="157.9" cy="149.6" r="1.25" fill="#0000ff"/><circle cx="160.6" cy="154.2" r="1.25" fill="#0000ff"/><circle cx="160.6" cy="159.2" r="1.25" fill="#0000ff"/><circle cx="164.3" cy="164.2" r="1.25" fill="#0000ff"/><circle cx="170.7" cy="170.6" r="1.25" fill="#0000ff"/><circle cx="131.7" cy="75.3" r="1.6" fill="#0000ff"/><circle cx="170.7" cy="170.6" r="1.6" fill="#0000ff"/>
<path d="M139.9,63.5 L131.5,66.9 L127.0,72.0 L123.7,78.8 L121.9,88.9 L122.4,96.2 L124.2,100.9 L126.5,109.2 L131.5,118.3 L136.6,123.8 L140.2,133.4 L146.6,140.3 L149.9,145.2 L154.7,154.2 L159.7,162.9 L168.4,169.3 L173.5,176.1 L177.3,183.5" fill="none" stroke="#00ff00" stroke-width="1.5" stroke-linejoin="round" stroke-linecap="round"/><circle cx="139.9" cy="63.5" r="1.25" fill="#00ff00"/><circle cx="131.5" cy="66.9" r="1.25" fill="#00ff00"/><circle cx="127.0" cy="72.0" r="1.25" fill="#00ff00"/><circle cx="123.7" cy="78.8" r="1.25" fill="#00ff00"/><circle cx="121.9" cy="88.9" r="1.25" fill="#00ff00"/><circle cx="122.4" cy="96.2" r="1.25" fill="#00ff00"/><circle cx="124.2" cy="100.9" r="1.25" fill="#00ff00"/><circle cx="126.5" cy="109.2" r="1.25" fill="#00ff00"/><circle cx="131.5" cy="118.3" r="1.25" fill="#00ff00"/><circle cx="136.6" cy="123.8" r="1.25" fill="#00ff00"/><circle cx="140.2" cy="133.4" r="1.25" fill="#00ff00"/><circle cx="146.6" cy="140.3" r="1.25" fill="#00ff00"/><circle cx="149.9" cy="145.2" r="1.25" fill="#00ff00"/><circle cx="154.7" cy="154.2" r="1.25" fill="#00ff00"/><circle cx="159.7" cy="162.9" r="1.25" fill="#00ff00"/><circle cx="168.4" cy="169.3" r="1.25" fill="#00ff00"/><circle cx="173.5" cy="176.1" r="1.25" fill="#00ff00"/><circle cx="177.3" cy="183.5" r="1.25" fill="#00ff00"/><circle cx="139.9" cy="63.5" r="1.6" fill="#00ff00"/><circle cx="177.3" cy="183.5" r="1.6" fill="#00ff00"/>
<path d="M131.2,65.1 L127.0,73.8 L124.7,87.0 L121.9,101.0 L123.7,109.2 L126.0,118.3 L130.1,126.6 L135.2,133.9 L141.6,138.5 L143.9,145.5 L149.7,148.7 L152.4,154.2 L154.7,161.0 L157.0,165.6 L162.5,169.5 L170.3,174.3 L179.7,179.6" fill="none" stroke="#000000" stroke-width="1.5" stroke-linejoin="round" stroke-linecap="round"/><circle cx="131.2" cy="65.1" r="1.25" fill="#000000"/><circle cx="127.0" cy="73.8" r="1.25" fill="#000000"/><circle cx="124.7" cy="87.0" r="1.25" fill="#000000"/><circle cx="121.9" cy="101.0" r="1.25" fill="#000000"/><circle cx="123.7" cy="109.2" r="1.25" fill="#000000"/><circle cx="126.0" cy="118.3" r="1.25" fill="#000000"/><circle cx="130.1" cy="126.6" r="1.25" fill="#000000"/><circle cx="135.2" cy="133.9" r="1.25" fill="#000000"/><circle cx="141.6" cy="138.5" r="1.25" fill="#000000"/><circle cx="143.9" cy="145.5" r="1.25" fill="#000000"/><circle cx="149.7" cy="148.7" r="1.25" fill="#000000"/><circle cx="152.4" cy="154.2" r="1.25" fill="#000000"/><circle cx="154.7" cy="161.0" r="1.25" fill="#000000"/><circle cx="157.0" cy="165.6" r="1.25" fill="#000000"/><circle cx="162.5" cy="169.5" r="1.25" fill="#000000"/><circle cx="170.3" cy="174.3" r="1.25" fill="#000000"/><circle cx="179.7" cy="179.6" r="1.25" fill="#000000"/><circle cx="131.2" cy="65.1" r="1.6" fill="#000000"/><circle cx="179.7" cy="179.6" r="1.6" fill="#000000"/>
</g>
<circle cx="48.6" cy="187.4" r="2.55" fill="#00ff00"/>
<text x="58.1" y="189.6" font-size="6.0" class="t" style="stroke-width:0.25px">ALLSKY</text>
<circle cx="48.6" cy="196.6" r="2.55" fill="#0000ff"/>
<text x="58.1" y="198.8" font-size="6.0" class="t" style="stroke-width:0.25px">CLEARSKY</text>
<circle cx="48.6" cy="205.8" r="2.55" fill="#ff0000"/>
<text x="58.1" y="208.0" font-size="6.0" class="t" style="stroke-width:0.25px">CONTROL</text>
<circle cx="48.6" cy="215.0" r="2.55" fill="#000000"/>
<text x="58.1" y="217.2" font-size="6.0" class="t" style="stroke-width:0.25px">BEST_TRACK</text>
<text x="40.1" y="38.7" font-size="11.9" class="dj">a)</text>
<path d="M54.1,232.5 v3.4 M54.1,23.4 v-3.4 M70.8,232.5 v3.4 M70.8,23.4 v-3.4 M87.4,232.5 v3.4 M87.4,23.4 v-3.4 M104.1,232.5 v3.4 M104.1,23.4 v-3.4 M137.4,232.5 v3.4 M137.4,23.4 v-3.4 M154.0,232.5 v3.4 M154.0,23.4 v-3.4 M170.7,232.5 v3.4 M170.7,23.4 v-3.4 M187.3,232.5 v3.4 M187.3,23.4 v-3.4 M220.6,232.5 v3.4 M220.6,23.4 v-3.4 M237.3,232.5 v3.4 M237.3,23.4 v-3.4 M37.5,224.1 h-3.4 M245.6,224.1 h3.4 M37.5,207.4 h-3.4 M245.6,207.4 h3.4 M37.5,174.0 h-3.4 M245.6,174.0 h3.4 M37.5,157.2 h-3.4 M245.6,157.2 h3.4 M37.5,140.5 h-3.4 M245.6,140.5 h3.4 M37.5,123.8 h-3.4 M245.6,123.8 h3.4 M37.5,90.3 h-3.4 M245.6,90.3 h3.4 M37.5,73.6 h-3.4 M245.6,73.6 h3.4 M37.5,56.9 h-3.4 M245.6,56.9 h3.4 M37.5,40.1 h-3.4 M245.6,40.1 h3.4" stroke="#b0b0b0" stroke-width="0.7" fill="none"/>
<path d="M37.5,232.5 v6.8 M37.5,23.4 v-6.8 M120.7,232.5 v6.8 M120.7,23.4 v-6.8 M204.0,232.5 v6.8 M204.0,23.4 v-6.8 M37.5,190.7 h-7.6 M245.6,190.7 h6.8 M37.5,107.0 h-7.6 M245.6,107.0 h6.8 M37.5,23.4 h-7.6 M245.6,23.4 h6.8" stroke="#6c6c6c" stroke-width="0.8" fill="none"/>
<rect x="37.5" y="23.4" width="208.1" height="209.1" fill="none" stroke="#6c6c6c" stroke-width="0.85"/>
<text x="37.5" y="253.7" font-size="9.4" text-anchor="middle" class="t">110E</text>
<text x="120.7" y="253.7" font-size="9.4" text-anchor="middle" class="t">120E</text>
<text x="204.0" y="253.7" font-size="9.4" text-anchor="middle" class="t">130E</text>
<text x="23.6" y="194.1" font-size="9.4" text-anchor="end" class="t">20N</text>
<text x="23.6" y="110.4" font-size="9.4" text-anchor="end" class="t">30N</text>
<text x="23.6" y="26.8" font-size="9.4" text-anchor="end" class="t">40N</text>
<text x="246.1" y="12.8" font-size="12.1" text-anchor="end" class="t" textLength="69.9" lengthAdjust="spacingAndGlyphs">ONLY FY-3C</text>
</g>
<g transform="translate(275.5,0)">
<clipPath id="clipb"><rect x="37.5" y="23.4" width="208.1" height="209.1"/></clipPath>
<g clip-path="url(#clipb)">
<path d="M79.1,23.4 V232.5 M120.7,23.4 V232.5 M162.4,23.4 V232.5 M204.0,23.4 V232.5 M37.5,190.7 H245.6 M37.5,148.9 H245.6 M37.5,107.0 H245.6 M37.5,65.2 H245.6" stroke="#d9d9d9" stroke-width="0.6" stroke-dasharray="2 1.8" fill="none"/>
<path d="M37.4,23.5 L39.8,23.4 L41.1,23.5 L42.6,23.4 L44.9,23.7 L46.1,23.2 L47.9,23.7 L50.3,22.9 L52.4,23.9 L53.9,23.5 L55.1,22.9 L57.4,22.9 L58.8,23.1 L60.4,23.4 L62.7,23.8 L64.6,23.6 L66.3,23.6 L68.1,23.2 L70.5,23.9 L72.1,23.6 L73.3,23.1 L75.1,22.9 L77.4,23.3 L79.3,23.3 L81.3,23.8 L82.0,23.1 L84.8,23.4 L86.7,23.3 L87.5,23.5 L90.1,23.1 L91.1,23.2 L93.9,23.7 L94.7,23.1 L96.5,22.9 L99.1,23.0 L100.6,23.3 L102.0,23.7 L103.8,23.6 L105.6,23.3 L107.5,23.1 L110.1,23.7 L111.2,23.8 L112.9,23.3 L115.4,23.6 L116.4,23.9 L118.3,23.1 L120.7,23.2 L118.2,24.2 L116.0,26.0 L115.2,27.5 L114.3,28.8 L112.9,29.6 L110.5,30.7 L108.1,30.1 L107.0,31.0 L104.3,30.6 L103.3,32.3 L101.1,33.3 L101.2,36.1 L102.6,38.2 L104.7,39.4 L107.5,39.4 L110.7,40.9 L112.4,43.5 L113.8,46.5 L115.7,46.3 L118.2,47.3 L120.7,44.8 L123.3,43.7 L124.6,42.8 L127.3,42.3 L129.2,42.3 L131.6,43.0 L133.3,44.8 L135.9,44.9 L137.5,45.1 L139.2,44.8 L141.3,46.1 L142.6,48.1 L139.4,48.9 L137.9,49.4 L135.8,50.0 L133.6,50.2 L132.5,51.2 L130.9,52.0 L129.3,53.2 L127.2,53.9 L126.2,55.0 L124.1,56.2 L123.0,57.3 L121.1,58.7 L119.5,60.5 L117.3,62.2 L116.7,64.0 L114.5,65.4 L116.5,67.5 L118.6,69.8 L121.6,70.3 L122.4,72.3 L123.7,74.1 L124.7,76.2 L125.3,78.5 L125.6,79.4 L126.8,82.3 L127.8,83.9 L130.2,86.1 L131.3,88.0 L132.6,89.1 L133.9,90.2 L135.6,93.6 L135.1,95.7 L134.0,97.2 L132.7,99.1 L131.8,100.9 L130.0,102.4 L127.4,102.6 L129.7,104.4 L132.8,104.5 L135.1,105.4 L136.7,106.7 L139.1,108.4 L137.3,109.6 L137.3,111.3 L136.3,113.5 L135.1,115.4 L133.7,116.3 L133.1,117.9 L132.4,119.7 L130.5,121.1 L129.0,123.3 L127.2,125.3 L126.0,127.9 L124.5,129.4 L122.9,130.9 L121.1,132.9 L120.6,134.4 L118.8,136.5 L119.1,138.8 L118.8,141.2 L117.6,142.8 L117.2,143.6 L115.3,145.9 L112.5,147.2 L111.1,149.4 L109.0,150.6 L107.6,152.1 L105.8,153.1 L103.5,154.0 L101.6,156.0 L100.0,157.4 L97.9,159.2 L97.1,160.6 L95.0,161.7 L92.5,163.2 L91.1,163.5 L88.3,164.5 L87.2,165.5 L85.4,165.3 L84.0,166.0 L81.5,166.8 L78.4,168.1 L76.5,168.0 L75.2,169.3 L73.9,169.9 L72.0,170.3 L70.1,170.5 L66.2,169.5 L66.1,167.3 L66.4,164.6 L66.4,166.6 L65.7,168.3 L66.2,170.7 L63.9,172.3 L63.1,173.6 L60.4,173.9 L58.1,174.9 L55.6,174.7 L53.4,175.5 L50.2,176.5 L47.9,176.8 L45.5,177.0 L42.7,178.0 L41.5,179.2 L39.0,179.3 L37.2,179.9 L37.8,180.4 L37.5,178.0 L37.2,176.5 L38.0,174.2 L37.8,172.3 L37.2,170.7 L37.7,169.0 L37.3,167.5 L37.1,165.9 L37.1,163.8 L37.2,161.7 L37.5,160.1 L37.4,158.3 L37.5,156.2 L37.2,154.9 L37.7,153.0 L37.9,151.3 L37.9,149.1 L37.8,147.9 L37.9,145.6 L37.3,144.5 L37.2,142.7 L37.9,140.0 L37.2,138.8 L37.2,136.4 L37.9,134.9 L37.8,132.8 L37.4,131.6 L37.0,129.3 L37.7,128.3 L38.0,125.6 L37.5,124.5 L37.5,122.6 L37.2,120.1 L37.1,118.3 L37.6,117.0 L37.6,114.8 L37.2,113.1 L37.9,112.1 L38.0,109.4 L37.0,108.5 L37.5,106.5 L37.3,104.4 L37.5,102.5 L37.6,100.3 L37.7,99.4 L37.1,97.1 L37.8,95.3 L37.2,93.2 L37.5,91.3 L37.9,90.3 L37.7,88.6 L37.6,86.3 L37.6,84.6 L38.0,83.1 L37.2,81.5 L37.8,79.5 L37.8,77.3 L37.9,76.0 L37.7,74.1 L37.8,71.9 L37.7,69.7 L37.3,68.4 L37.0,66.4 L37.7,64.9 L37.2,63.5 L37.7,61.0 L37.7,59.5 L37.5,57.5 L38.0,56.0 L37.7,54.3 L38.0,51.7 L37.6,50.7 L37.2,48.5 L37.0,46.5 L37.4,44.6 L37.2,43.6 L37.6,41.4 L38.0,39.7 L38.0,38.0 L37.8,35.5 L37.6,34.5 L37.0,32.9 L37.1,30.6 L37.1,28.8 L37.6,26.5 L38.0,25.1Z M134.3,23.5 L133.1,25.4 L132.0,28.2 L131.1,30.6 L130.1,32.9 L133.5,31.3 L136.0,30.5 L138.5,29.5 L140.3,27.9 L142.8,27.0 L144.7,26.3 L147.3,25.6 L149.1,24.7 L151.1,24.6 L153.1,24.1 L155.1,23.8 L156.9,23.6 L155.1,23.3 L152.9,23.4 L151.6,23.2 L149.5,23.5 L147.4,23.2 L145.8,23.4 L143.8,23.4 L141.7,23.5 L140.2,23.4 L138.1,23.6 L136.6,23.4Z M159.2,23.6 L159.0,25.4 L160.3,26.0 L162.5,26.7 L165.5,27.8 L164.7,29.8 L163.6,31.4 L161.1,33.9 L160.4,36.3 L161.7,39.4 L164.4,40.4 L168.1,41.3 L169.3,42.5 L171.7,42.0 L174.1,44.1 L173.8,46.2 L172.5,48.6 L172.4,51.8 L173.8,54.9 L173.9,58.8 L172.8,61.6 L171.8,64.9 L170.9,67.6 L171.9,71.1 L174.7,71.5 L176.7,70.5 L180.2,69.6 L182.8,67.8 L185.0,67.5 L187.4,66.8 L188.5,66.5 L190.8,65.5 L192.5,64.5 L194.6,63.9 L195.6,62.0 L197.0,60.6 L197.8,58.6 L199.0,57.3 L199.1,55.2 L199.6,53.1 L199.5,51.9 L199.2,50.0 L198.2,48.0 L197.8,45.3 L197.2,44.4 L195.5,42.2 L195.0,40.6 L193.2,38.7 L191.7,37.7 L191.4,36.5 L189.6,33.9 L188.1,33.1 L187.7,31.3 L186.1,29.6 L185.1,26.5 L184.3,24.0 L183.1,23.2 L180.7,23.9 L178.9,24.0 L177.3,23.7 L175.7,23.2 L173.4,23.3 L172.0,23.7 L169.7,23.9 L168.2,23.2 L166.4,23.9 L164.7,23.6 L163.2,23.9 L161.3,23.3Z M211.2,71.3 L213.3,70.4 L214.9,69.0 L216.4,68.0 L218.2,66.8 L219.6,65.8 L221.4,64.4 L223.7,62.9 L225.1,61.7 L227.1,61.1 L229.6,61.1 L231.8,61.0 L234.0,61.1 L235.7,60.7 L238.0,60.2 L240.1,59.6 L241.8,59.4 L243.6,59.0 L245.7,59.2 L245.8,61.2 L245.5,63.3 L245.3,65.3 L245.5,67.1 L243.3,68.3 L241.3,69.2 L239.6,69.1 L237.4,69.2 L235.5,69.7 L233.5,70.4 L231.5,70.9 L230.2,71.1 L228.1,71.8 L225.7,71.6 L224.3,72.7 L222.3,72.9 L219.6,73.6 L217.3,73.9 L214.7,74.3 L212.5,74.5 L211.1,73.4Z M201.5,77.7 L203.7,77.2 L205.4,76.2 L208.2,75.7 L210.5,75.1 L212.5,75.5 L214.3,75.4 L216.6,76.5 L218.2,77.8 L219.7,79.0 L220.9,80.9 L220.4,82.8 L220.1,84.5 L219.0,86.4 L218.6,88.4 L217.6,90.4 L216.5,92.5 L215.6,93.7 L214.6,95.6 L212.7,96.6 L211.5,98.1 L207.9,96.8 L206.6,95.7 L205.5,94.0 L204.4,90.8 L206.1,88.2 L207.6,87.0 L208.7,85.7 L206.8,83.4 L204.2,82.7 L201.7,80.8 L200.5,78.6Z M224.4,79.2 L225.8,78.0 L227.6,76.6 L229.5,76.1 L231.4,75.3 L232.9,73.6 L235.1,72.3 L236.8,71.3 L239.0,70.7 L240.9,70.7 L243.0,71.2 L244.4,72.4 L243.0,73.4 L241.4,74.9 L240.1,78.5 L238.3,78.4 L236.5,79.1 L234.3,80.1 L232.1,80.6 L230.6,82.3 L229.3,83.4 L226.6,82.7 L224.9,81.2Z M134.0,146.0 L136.7,147.9 L136.0,151.9 L135.3,153.8 L134.5,155.5 L133.7,157.7 L132.9,160.0 L132.0,162.2 L130.8,164.2 L130.1,166.0 L128.8,167.8 L128.4,169.7 L127.6,171.6 L127.0,174.3 L125.7,172.9 L124.6,169.9 L122.5,166.3 L122.1,164.7 L121.4,162.7 L121.2,160.0 L122.5,156.9 L124.3,153.8 L126.5,151.0 L129.1,148.6 L131.7,146.7Z M126.4,202.8 L129.9,202.1 L131.7,203.1 L133.6,203.6 L135.1,204.4 L137.4,205.0 L139.9,203.7 L140.1,207.4 L139.5,209.3 L138.9,211.1 L141.4,213.3 L141.9,216.7 L140.8,219.7 L139.2,221.4 L138.0,222.3 L136.0,223.7 L134.7,224.7 L133.3,227.8 L132.4,230.4 L133.2,232.2 L131.4,232.5 L129.7,232.6 L127.9,232.5 L126.3,232.1 L124.3,232.6 L122.5,232.2 L120.5,232.5 L120.4,230.2 L120.0,226.9 L117.9,224.5 L118.9,221.7 L121.2,222.6 L122.6,219.8 L122.9,218.1 L123.7,216.0 L123.4,214.2 L123.3,212.1 L123.4,210.5 L124.4,208.0 L125.1,205.2Z" fill="#d3d3d3" stroke="#7c7c7c" stroke-width="0.65" stroke-linejoin="round"/>
<ellipse cx="175.3" cy="78.6" rx="3.2" ry="1.4" transform="rotate(-12 175.3 78.6)" fill="#d3d3d3" stroke="#7c7c7c" stroke-width="0.45"/>
<ellipse cx="198.5" cy="70.0" rx="0.9" ry="2.4" transform="rotate(25 198.5 70.0)" fill="#d3d3d3" stroke="#7c7c7c" stroke-width="0.45"/>
<ellipse cx="194.7" cy="83.5" rx="0.9" ry="2.6" transform="rotate(45 194.7 83.5)" fill="#d3d3d3" stroke="#7c7c7c" stroke-width="0.45"/>
<ellipse cx="229.9" cy="55.4" rx="1.3" ry="0.8" transform="rotate(-30 229.9 55.4)" fill="#d3d3d3" stroke="#7c7c7c" stroke-width="0.45"/>
<ellipse cx="212.2" cy="101.9" rx="0.6" ry="2.0" transform="rotate(12 212.2 101.9)" fill="#d3d3d3" stroke="#7c7c7c" stroke-width="0.45"/>
<ellipse cx="207.8" cy="103.8" rx="1.2" ry="1.0" transform="rotate(0 207.8 103.8)" fill="#d3d3d3" stroke="#7c7c7c" stroke-width="0.45"/>
<ellipse cx="202.3" cy="92.3" rx="1.4" ry="1.0" transform="rotate(-30 202.3 92.3)" fill="#d3d3d3" stroke="#7c7c7c" stroke-width="0.45"/>
<ellipse cx="116.8" cy="160.8" rx="0.9" ry="0.9" transform="rotate(0 116.8 160.8)" fill="#d3d3d3" stroke="#7c7c7c" stroke-width="0.45"/>
<ellipse cx="136.0" cy="184.0" rx="0.5" ry="1.0" transform="rotate(20 136.0 184.0)" fill="#d3d3d3" stroke="#7c7c7c" stroke-width="0.45"/>
<ellipse cx="136.3" cy="187.6" rx="0.6" ry="1.1" transform="rotate(30 136.3 187.6)" fill="#d3d3d3" stroke="#7c7c7c" stroke-width="0.45"/>
<ellipse cx="132.2" cy="196.2" rx="0.7" ry="0.6" transform="rotate(0 132.2 196.2)" fill="#d3d3d3" stroke="#7c7c7c" stroke-width="0.45"/>
<ellipse cx="136.7" cy="194.9" rx="0.5" ry="0.5" transform="rotate(0 136.7 194.9)" fill="#d3d3d3" stroke="#7c7c7c" stroke-width="0.45"/>
<ellipse cx="131.5" cy="200.0" rx="0.6" ry="0.6" transform="rotate(0 131.5 200.0)" fill="#d3d3d3" stroke="#7c7c7c" stroke-width="0.45"/>
<ellipse cx="136.7" cy="199.4" rx="0.7" ry="0.6" transform="rotate(0 136.7 199.4)" fill="#d3d3d3" stroke="#7c7c7c" stroke-width="0.45"/>
<ellipse cx="137.3" cy="106.8" rx="1.6" ry="1.2" transform="rotate(30 137.3 106.8)" fill="#d3d3d3" stroke="#7c7c7c" stroke-width="0.45"/>
<ellipse cx="171.0" cy="69.4" rx="2.0" ry="2.2" transform="rotate(0 171.0 69.4)" fill="#d3d3d3" stroke="#7c7c7c" stroke-width="0.45"/>
<ellipse cx="132.2" cy="27.7" rx="0.8" ry="0.6" transform="rotate(0 132.2 27.7)" fill="#d3d3d3" stroke="#7c7c7c" stroke-width="0.45"/>
<ellipse cx="186.3" cy="135.8" rx="0.7" ry="1.6" transform="rotate(40 186.3 135.8)" fill="#d3d3d3" stroke="#7c7c7c" stroke-width="0.45"/>
<ellipse cx="214.6" cy="141.5" rx="0.5" ry="0.4" transform="rotate(0 214.6 141.5)" fill="#d3d3d3" stroke="#7c7c7c" stroke-width="0.45"/>
<ellipse cx="177.6" cy="137.6" rx="0.6" ry="0.45" transform="rotate(0 177.6 137.6)" fill="#d3d3d3" stroke="#7c7c7c" stroke-width="0.45"/>
<ellipse cx="199.8" cy="121.2" rx="1.3" ry="0.6" transform="rotate(-35 199.8 121.2)" fill="#d3d3d3" stroke="#7c7c7c" stroke-width="0.45"/>
<ellipse cx="195.6" cy="125.4" rx="0.6" ry="0.8" transform="rotate(0 195.6 125.4)" fill="#d3d3d3" stroke="#7c7c7c" stroke-width="0.45"/>
<ellipse cx="192.5" cy="129.3" rx="0.5" ry="0.5" transform="rotate(0 192.5 129.3)" fill="#d3d3d3" stroke="#7c7c7c" stroke-width="0.45"/>
<ellipse cx="164.8" cy="150.5" rx="0.8" ry="0.5" transform="rotate(-20 164.8 150.5)" fill="#d3d3d3" stroke="#7c7c7c" stroke-width="0.45"/>
<ellipse cx="201.7" cy="98.0" rx="0.45" ry="0.45" transform="rotate(0 201.7 98.0)" fill="#d3d3d3" stroke="#7c7c7c" stroke-width="0.45"/>
<ellipse cx="203.6" cy="102.0" rx="0.4" ry="0.4" transform="rotate(0 203.6 102.0)" fill="#d3d3d3" stroke="#7c7c7c" stroke-width="0.45"/>
<ellipse cx="199.0" cy="106.4" rx="0.4" ry="0.4" transform="rotate(0 199.0 106.4)" fill="#d3d3d3" stroke="#7c7c7c" stroke-width="0.45"/>
<ellipse cx="204.0" cy="111.5" rx="0.4" ry="0.4" transform="rotate(0 204.0 111.5)" fill="#d3d3d3" stroke="#7c7c7c" stroke-width="0.45"/>
<ellipse cx="195.0" cy="116.7" rx="0.45" ry="0.4" transform="rotate(0 195.0 116.7)" fill="#d3d3d3" stroke="#7c7c7c" stroke-width="0.45"/>
<g fill="#808080"><circle cx="128.0" cy="102.7" r="0.62"/><circle cx="128.9" cy="103.8" r="0.65"/><circle cx="131.0" cy="103.6" r="0.40"/><circle cx="134.3" cy="103.4" r="0.39"/><circle cx="135.7" cy="105.3" r="0.43"/><circle cx="136.7" cy="104.6" r="0.43"/><circle cx="138.0" cy="106.5" r="0.73"/><circle cx="139.6" cy="109.4" r="0.75"/><circle cx="138.3" cy="112.0" r="0.61"/><circle cx="137.2" cy="113.6" r="0.43"/><circle cx="135.6" cy="115.3" r="0.48"/><circle cx="135.2" cy="117.6" r="0.73"/><circle cx="131.3" cy="122.4" r="0.57"/><circle cx="129.5" cy="124.8" r="0.59"/><circle cx="127.3" cy="127.5" r="0.61"/><circle cx="125.7" cy="129.7" r="0.53"/><circle cx="123.6" cy="132.9" r="0.40"/><circle cx="122.2" cy="133.9" r="0.69"/><circle cx="119.8" cy="138.7" r="0.60"/><circle cx="118.8" cy="139.7" r="0.64"/><circle cx="115.5" cy="147.2" r="0.49"/><circle cx="113.9" cy="146.8" r="0.42"/><circle cx="113.6" cy="148.5" r="0.37"/><circle cx="110.9" cy="150.6" r="0.47"/><circle cx="109.1" cy="151.7" r="0.56"/><circle cx="106.5" cy="153.6" r="0.53"/><circle cx="103.2" cy="155.9" r="0.65"/><circle cx="97.2" cy="159.5" r="0.52"/><circle cx="96.9" cy="160.2" r="0.52"/><circle cx="93.5" cy="163.5" r="0.68"/><circle cx="92.5" cy="164.3" r="0.45"/><circle cx="90.5" cy="164.2" r="0.51"/><circle cx="88.6" cy="164.8" r="0.49"/><circle cx="85.2" cy="165.8" r="0.45"/><circle cx="79.6" cy="167.3" r="0.54"/><circle cx="77.9" cy="167.8" r="0.35"/><circle cx="76.5" cy="168.9" r="0.72"/><circle cx="73.8" cy="169.7" r="0.59"/><circle cx="71.0" cy="171.4" r="0.43"/><circle cx="68.1" cy="171.9" r="0.62"/><circle cx="65.4" cy="167.3" r="0.57"/><circle cx="65.0" cy="165.6" r="0.45"/><circle cx="67.0" cy="167.5" r="0.48"/><circle cx="66.0" cy="171.0" r="0.75"/><circle cx="64.9" cy="171.7" r="0.37"/><circle cx="63.5" cy="173.5" r="0.41"/><circle cx="61.5" cy="174.5" r="0.54"/><circle cx="54.0" cy="175.2" r="0.69"/><circle cx="52.5" cy="177.1" r="0.48"/><circle cx="51.5" cy="177.4" r="0.62"/><circle cx="48.3" cy="177.3" r="0.51"/><circle cx="41.1" cy="180.0" r="0.53"/><circle cx="39.9" cy="180.6" r="0.70"/><circle cx="38.4" cy="179.8" r="0.49"/><circle cx="134.7" cy="90.4" r="0.71"/><circle cx="136.6" cy="95.5" r="0.56"/><circle cx="131.2" cy="100.8" r="0.35"/><circle cx="159.3" cy="34.7" r="0.46"/><circle cx="163.6" cy="41.4" r="0.55"/><circle cx="166.1" cy="43.3" r="0.60"/><circle cx="168.1" cy="42.8" r="0.37"/><circle cx="172.2" cy="45.2" r="0.57"/><circle cx="171.8" cy="45.6" r="0.46"/><circle cx="172.2" cy="46.7" r="0.40"/><circle cx="173.1" cy="47.7" r="0.35"/><circle cx="172.1" cy="49.2" r="0.42"/><circle cx="170.7" cy="50.2" r="0.65"/><circle cx="172.3" cy="52.3" r="0.40"/><circle cx="172.6" cy="53.9" r="0.43"/><circle cx="173.0" cy="56.5" r="0.54"/><circle cx="172.4" cy="58.1" r="0.47"/><circle cx="173.3" cy="59.0" r="0.66"/><circle cx="173.2" cy="61.6" r="0.57"/><circle cx="170.9" cy="61.5" r="0.63"/><circle cx="170.9" cy="63.7" r="0.36"/><circle cx="170.0" cy="65.5" r="0.54"/><circle cx="170.8" cy="67.2" r="0.70"/><circle cx="171.6" cy="71.3" r="0.67"/><circle cx="174.4" cy="71.4" r="0.63"/><circle cx="178.4" cy="71.7" r="0.74"/><circle cx="182.1" cy="70.7" r="0.70"/><circle cx="184.4" cy="69.6" r="0.60"/><circle cx="186.0" cy="67.5" r="0.58"/><circle cx="187.4" cy="66.9" r="0.73"/><circle cx="190.1" cy="67.5" r="0.58"/><circle cx="193.7" cy="64.9" r="0.72"/><circle cx="207.3" cy="95.1" r="0.47"/><circle cx="206.2" cy="94.8" r="0.46"/><circle cx="205.5" cy="89.9" r="0.57"/><circle cx="205.1" cy="82.7" r="0.56"/><circle cx="201.4" cy="79.8" r="0.68"/><circle cx="237.7" cy="68.6" r="0.65"/><circle cx="234.3" cy="69.5" r="0.58"/><circle cx="227.6" cy="71.3" r="0.36"/><circle cx="225.6" cy="71.7" r="0.41"/><circle cx="224.3" cy="71.3" r="0.38"/><circle cx="223.0" cy="71.7" r="0.57"/><circle cx="213.0" cy="73.2" r="0.55"/><circle cx="131.3" cy="26.3" r="0.72"/><circle cx="130.9" cy="30.8" r="0.64"/></g>
<clipPath id="landb"><path d="M37.4,23.5 L39.8,23.4 L41.1,23.5 L42.6,23.4 L44.9,23.7 L46.1,23.2 L47.9,23.7 L50.3,22.9 L52.4,23.9 L53.9,23.5 L55.1,22.9 L57.4,22.9 L58.8,23.1 L60.4,23.4 L62.7,23.8 L64.6,23.6 L66.3,23.6 L68.1,23.2 L70.5,23.9 L72.1,23.6 L73.3,23.1 L75.1,22.9 L77.4,23.3 L79.3,23.3 L81.3,23.8 L82.0,23.1 L84.8,23.4 L86.7,23.3 L87.5,23.5 L90.1,23.1 L91.1,23.2 L93.9,23.7 L94.7,23.1 L96.5,22.9 L99.1,23.0 L100.6,23.3 L102.0,23.7 L103.8,23.6 L105.6,23.3 L107.5,23.1 L110.1,23.7 L111.2,23.8 L112.9,23.3 L115.4,23.6 L116.4,23.9 L118.3,23.1 L120.7,23.2 L118.2,24.2 L116.0,26.0 L115.2,27.5 L114.3,28.8 L112.9,29.6 L110.5,30.7 L108.1,30.1 L107.0,31.0 L104.3,30.6 L103.3,32.3 L101.1,33.3 L101.2,36.1 L102.6,38.2 L104.7,39.4 L107.5,39.4 L110.7,40.9 L112.4,43.5 L113.8,46.5 L115.7,46.3 L118.2,47.3 L120.7,44.8 L123.3,43.7 L124.6,42.8 L127.3,42.3 L129.2,42.3 L131.6,43.0 L133.3,44.8 L135.9,44.9 L137.5,45.1 L139.2,44.8 L141.3,46.1 L142.6,48.1 L139.4,48.9 L137.9,49.4 L135.8,50.0 L133.6,50.2 L132.5,51.2 L130.9,52.0 L129.3,53.2 L127.2,53.9 L126.2,55.0 L124.1,56.2 L123.0,57.3 L121.1,58.7 L119.5,60.5 L117.3,62.2 L116.7,64.0 L114.5,65.4 L116.5,67.5 L118.6,69.8 L121.6,70.3 L122.4,72.3 L123.7,74.1 L124.7,76.2 L125.3,78.5 L125.6,79.4 L126.8,82.3 L127.8,83.9 L130.2,86.1 L131.3,88.0 L132.6,89.1 L133.9,90.2 L135.6,93.6 L135.1,95.7 L134.0,97.2 L132.7,99.1 L131.8,100.9 L130.0,102.4 L127.4,102.6 L129.7,104.4 L132.8,104.5 L135.1,105.4 L136.7,106.7 L139.1,108.4 L137.3,109.6 L137.3,111.3 L136.3,113.5 L135.1,115.4 L133.7,116.3 L133.1,117.9 L132.4,119.7 L130.5,121.1 L129.0,123.3 L127.2,125.3 L126.0,127.9 L124.5,129.4 L122.9,130.9 L121.1,132.9 L120.6,134.4 L118.8,136.5 L119.1,138.8 L118.8,141.2 L117.6,142.8 L117.2,143.6 L115.3,145.9 L112.5,147.2 L111.1,149.4 L109.0,150.6 L107.6,152.1 L105.8,153.1 L103.5,154.0 L101.6,156.0 L100.0,157.4 L97.9,159.2 L97.1,160.6 L95.0,161.7 L92.5,163.2 L91.1,163.5 L88.3,164.5 L87.2,165.5 L85.4,165.3 L84.0,166.0 L81.5,166.8 L78.4,168.1 L76.5,168.0 L75.2,169.3 L73.9,169.9 L72.0,170.3 L70.1,170.5 L66.2,169.5 L66.1,167.3 L66.4,164.6 L66.4,166.6 L65.7,168.3 L66.2,170.7 L63.9,172.3 L63.1,173.6 L60.4,173.9 L58.1,174.9 L55.6,174.7 L53.4,175.5 L50.2,176.5 L47.9,176.8 L45.5,177.0 L42.7,178.0 L41.5,179.2 L39.0,179.3 L37.2,179.9 L37.8,180.4 L37.5,178.0 L37.2,176.5 L38.0,174.2 L37.8,172.3 L37.2,170.7 L37.7,169.0 L37.3,167.5 L37.1,165.9 L37.1,163.8 L37.2,161.7 L37.5,160.1 L37.4,158.3 L37.5,156.2 L37.2,154.9 L37.7,153.0 L37.9,151.3 L37.9,149.1 L37.8,147.9 L37.9,145.6 L37.3,144.5 L37.2,142.7 L37.9,140.0 L37.2,138.8 L37.2,136.4 L37.9,134.9 L37.8,132.8 L37.4,131.6 L37.0,129.3 L37.7,128.3 L38.0,125.6 L37.5,124.5 L37.5,122.6 L37.2,120.1 L37.1,118.3 L37.6,117.0 L37.6,114.8 L37.2,113.1 L37.9,112.1 L38.0,109.4 L37.0,108.5 L37.5,106.5 L37.3,104.4 L37.5,102.5 L37.6,100.3 L37.7,99.4 L37.1,97.1 L37.8,95.3 L37.2,93.2 L37.5,91.3 L37.9,90.3 L37.7,88.6 L37.6,86.3 L37.6,84.6 L38.0,83.1 L37.2,81.5 L37.8,79.5 L37.8,77.3 L37.9,76.0 L37.7,74.1 L37.8,71.9 L37.7,69.7 L37.3,68.4 L37.0,66.4 L37.7,64.9 L37.2,63.5 L37.7,61.0 L37.7,59.5 L37.5,57.5 L38.0,56.0 L37.7,54.3 L38.0,51.7 L37.6,50.7 L37.2,48.5 L37.0,46.5 L37.4,44.6 L37.2,43.6 L37.6,41.4 L38.0,39.7 L38.0,38.0 L37.8,35.5 L37.6,34.5 L37.0,32.9 L37.1,30.6 L37.1,28.8 L37.6,26.5 L38.0,25.1Z"/></clipPath>
<path d="M137.1,97.4 L137.8,98.5 L137.1,99.6 L135.8,99.4 M130.4,105.5 L130.7,104.2 L129.7,103.3 L130.1,102.1 M129.6,114.5 L128.6,115.3 L128.1,116.5 L128.8,117.6 L128.6,118.9 L128.4,120.2 L129.0,121.3 M129.8,88.8 L129.9,90.1 L129.9,91.4 L131.0,92.2 L131.3,93.4 L130.9,94.7 L131.4,95.9 M131.4,89.1 L131.3,87.8 L132.1,86.7 L133.3,86.9 M130.8,107.9 L131.6,107.0 L132.5,106.0 L133.8,106.0 M136.8,100.1 L135.5,100.3 L134.2,100.6 L133.0,100.2 L132.3,99.1 M132.1,119.2 L133.2,119.8 L133.8,121.0 L133.5,122.3 L133.5,123.6 L134.2,124.7 L134.9,125.8 M134.3,103.1 L133.0,103.0 L131.7,102.8 L131.0,103.8 M133.3,98.4 L134.0,97.3 L133.5,96.1 L132.8,95.0 L133.0,93.7 L133.9,92.7 L133.4,91.5 M127.6,89.1 L128.8,89.6 L128.8,90.9 L129.9,91.6 M137.8,94.4 L138.9,95.0 L140.1,94.6 L140.3,93.3 M137.9,109.5 L138.0,108.2 L137.5,107.0 L137.9,105.8 L137.2,104.7 L136.8,103.5 L135.8,102.6 M130.8,101.9 L132.1,102.1 L132.8,101.0 L132.4,99.7 L131.2,99.4 L130.7,98.1 L130.3,96.9 M135.6,113.3 L136.8,113.9 L137.0,115.2 L137.1,116.5 L136.2,117.5 L135.6,118.7 L134.4,118.9 M135.3,115.6 L134.2,116.2 L133.4,117.3 L132.1,117.2 M136.8,120.0 L138.0,119.5 L139.3,119.8 L140.3,120.6 L141.5,121.1 L142.7,121.7 L142.7,123.0 M130.6,120.0 L131.8,120.3 L133.1,119.9 L133.5,118.6 L132.8,117.5 L133.4,116.4 M135.9,93.4 L136.5,92.3 L137.8,92.1 L138.6,93.1 M128.9,110.2 L129.4,111.4 L130.4,112.3 L130.8,113.6 L130.5,114.8 M134.5,99.2 L134.2,97.9 L133.8,96.7 L133.8,95.4 L134.8,94.5 L134.4,93.2 M136.5,91.2 L135.5,92.1 L135.7,93.4 L136.3,94.6 M129.0,118.2 L129.1,116.9 L130.2,116.3 L131.5,116.1 L132.6,116.9 L133.5,117.8 M135.5,88.4 L134.3,88.0 L133.3,88.8 L132.0,89.0 L131.1,89.9 L130.1,90.7 L128.8,90.8 M131.4,94.0 L130.7,93.0 L129.7,92.1 L129.0,91.0 L128.6,89.8 L127.4,89.2 L126.7,88.1 M130.0,107.5 L131.3,107.9 L132.6,107.7 L133.3,108.8 L134.1,109.8 L135.0,110.8" fill="none" stroke="#9a9a9a" stroke-width="0.5" clip-path="url(#landb)"/>
<path d="M127.4,102.6 L128.2,104.4 L129.9,104.9 L131.0,104.4 L132.3,104.7 L133.5,104.8 L134.6,104.9 L134.5,104.9 L136.3,105.4 L137.1,106.5 L137.1,107.8 L137.9,109.1 L138.5,109.2 L137.8,111.0 L136.3,112.1 L135.8,113.5 L136.1,114.7 L134.6,114.8 L134.7,116.4 L133.4,117.9 L133.6,118.1 L131.8,119.7 L131.5,120.8 L130.9,121.4 L129.2,122.0 L128.8,123.7 L127.9,124.6 L127.2,125.7 L126.8,125.8 L125.4,126.3 L124.7,128.4 L125.4,129.2 L123.7,129.9 L123.1,131.1 L123.2,131.7 L122.4,132.0 L122.1,133.6 L120.6,133.8 L120.7,135.1 L119.6,135.7 L119.8,136.4 L118.6,138.0 L118.6,139.4 L118.5,140.5 L118.5,141.5 L118.4,142.3 L117.0,142.5 L116.1,143.6 L116.3,144.1 L114.8,145.5 L113.9,145.8 L113.3,146.9 L112.3,148.0 L112.1,148.4 L111.1,148.9 L110.8,150.3 L109.6,149.8 L108.3,151.8 L107.4,151.8 L106.5,152.0 L105.6,153.5 L103.7,153.7 L103.5,154.1 L102.6,155.6 L102.0,155.3 L100.1,156.9 L100.0,157.7 L99.6,157.7 L98.3,158.5 L97.8,159.7 L96.2,160.1 L95.9,160.3 L94.5,161.4 L93.2,162.0 L93.4,163.2 L91.1,163.7 L91.1,164.0 L89.1,164.5 L88.3,165.1 L87.5,164.8 L86.3,165.9 L85.3,166.3 L84.7,165.6 L83.9,166.5 L82.0,167.2 L81.3,166.3 L81.0,167.6 L79.4,167.1 L78.6,167.9 L77.9,168.2 L76.7,168.9 L75.1,168.5 L74.5,169.7 L74.0,170.2 L72.4,170.3 L71.0,170.2 L69.9,171.2 L70.3,171.3 L68.9,170.3 L68.0,169.4 L66.3,169.3 L67.0,167.8 L65.8,166.4 L66.8,165.5 L66.8,164.3 L66.6,165.3 L66.6,167.6 L66.5,168.3 L66.5,169.8 L66.5,170.0 L65.5,171.5 L64.0,171.5 L64.0,172.7 L62.6,174.2 L61.5,173.6 L60.6,174.3 L58.9,174.9 L58.7,174.5 L57.5,175.4 L56.1,174.7 L55.2,174.9 L53.6,175.9 L52.6,174.9 L52.4,176.5 L50.6,175.9 L49.9,176.7 L48.1,176.8 L47.4,177.4 L46.7,177.7 L45.7,177.6 L44.0,177.1 L43.4,177.6 L42.7,178.1 M161.6,32.8 L160.8,34.4 L161.1,36.2 L161.8,36.5 L161.6,37.5 L161.7,39.2 L162.7,39.4 L164.8,40.6 L165.3,41.1 L167.2,40.7 L168.2,42.1 L168.9,41.5 L171.0,42.0 L171.1,41.8 L173.1,43.2 L174.0,44.0 L174.0,45.7 L174.0,46.4 L174.0,47.7 L173.4,48.9 L173.0,49.3 L172.1,50.7 L171.7,51.7 L172.2,52.9 L173.4,54.0 L173.4,54.9 L173.5,57.0 L174.2,57.6 L173.7,58.8 L173.3,59.4 L174.0,60.8 L173.0,62.0 L173.0,63.2 L171.7,63.2 L171.4,64.6 L171.1,66.6 L171.8,66.8 L171.2,68.0 L171.9,69.3 L171.4,70.2 L173.0,70.6 L174.3,71.9 L175.4,70.6 L177.5,70.6 L177.3,69.6 L178.4,70.0 L180.4,69.3 L180.5,68.8 L182.8,68.6 L183.9,68.6 L183.5,68.1 L185.4,67.5 L185.8,67.3 L186.6,66.7 L188.0,67.1 L189.5,65.8 L190.0,65.4 L191.5,66.0 L191.6,65.2 L193.0,64.1 L194.1,64.1 L194.7,63.6 M213.9,95.7 L213.3,96.1 L213.1,97.2 L212.0,97.4 L210.7,98.0 L210.1,98.1 L209.2,97.5 L208.0,96.4 L207.7,96.3 L206.2,94.6 L205.5,94.2 L205.4,93.2 L204.6,92.2 L204.1,90.5 L204.3,90.7 L205.9,89.1 L206.7,88.5 L206.6,88.1 L208.0,87.3 L208.9,85.4 L208.2,85.4 L207.9,84.0 L206.8,83.5 L205.1,83.4 L204.5,82.2 L203.5,81.9 L202.2,81.6 L202.3,80.9 L200.6,79.8 L200.7,79.3 L201.7,77.6" fill="none" stroke="#757575" stroke-width="0.8" stroke-linejoin="round"/>
<g fill="#6e6e6e"><circle cx="171.7" cy="69.3" r="0.81"/><circle cx="173.0" cy="69.3" r="0.87"/><circle cx="169.3" cy="67.5" r="0.87"/><circle cx="171.8" cy="70.4" r="0.50"/><circle cx="171.1" cy="66.1" r="0.69"/><circle cx="171.5" cy="64.6" r="0.55"/><circle cx="170.3" cy="70.5" r="0.79"/><circle cx="169.8" cy="69.7" r="0.51"/><circle cx="171.7" cy="65.3" r="0.45"/><circle cx="172.7" cy="65.9" r="0.55"/><circle cx="173.1" cy="70.2" r="0.58"/><circle cx="173.0" cy="68.0" r="0.76"/><circle cx="170.0" cy="70.6" r="0.76"/><circle cx="173.1" cy="70.3" r="0.58"/><circle cx="173.9" cy="54.8" r="0.52"/><circle cx="172.3" cy="40.0" r="0.58"/><circle cx="172.9" cy="53.7" r="0.48"/><circle cx="173.8" cy="44.9" r="0.63"/><circle cx="173.7" cy="47.5" r="0.54"/><circle cx="173.5" cy="43.5" r="0.54"/><circle cx="173.9" cy="44.8" r="0.63"/><circle cx="173.6" cy="55.2" r="0.47"/><circle cx="171.8" cy="54.4" r="0.63"/><circle cx="201.5" cy="78.3" r="0.74"/><circle cx="200.7" cy="80.2" r="0.61"/><circle cx="200.7" cy="80.0" r="0.47"/><circle cx="201.8" cy="77.8" r="0.49"/><circle cx="201.8" cy="81.6" r="0.51"/><circle cx="201.2" cy="80.6" r="0.88"/><circle cx="139.8" cy="106.7" r="0.44"/><circle cx="141.5" cy="100.6" r="0.49"/><circle cx="142.5" cy="101.5" r="0.62"/><circle cx="140.6" cy="103.2" r="0.57"/><circle cx="139.7" cy="105.8" r="0.43"/><circle cx="139.8" cy="100.1" r="0.49"/><circle cx="140.4" cy="106.3" r="0.53"/><circle cx="227.6" cy="70.9" r="0.40"/><circle cx="232.4" cy="70.0" r="0.53"/><circle cx="232.8" cy="70.2" r="0.54"/><circle cx="229.4" cy="70.1" r="0.48"/><circle cx="230.4" cy="71.1" r="0.60"/><circle cx="223.9" cy="70.6" r="0.39"/></g>
<path d="M74.9,23.9 L73.8,28.9 L70.8,30.5 L69.9,33.0 L67.7,35.9 L68.6,39.8 L69.3,41.1 L71.7,45.4 L67.9,49.4 L67.4,52.7 L69.1,55.6 L73.0,55.8 L75.1,56.4 L77.9,55.2 L81.1,55.7 L83.6,57.4 L88.2,56.3 M66.1,53.3 L66.5,56.3 L65.4,60.1 L64.8,62.0 L61.0,62.0 L56.9,62.6 L54.5,62.5 L52.4,63.8 L48.9,64.5 L47.8,67.0 L45.1,68.0 L40.4,68.6 M43.6,42.5 L40.4,48.0 L40.3,49.5 L40.7,52.7 L41.5,55.8 L42.0,59.3 L40.6,65.2 L40.7,69.3 L41.6,70.7 L42.6,74.6 L42.9,76.3 L45.1,79.4 L47.3,81.9 L49.4,83.6 L51.8,84.9 L54.0,86.7 L57.8,86.8 L62.6,87.1 L64.1,86.9 L67.9,85.4 L68.4,89.3 L71.7,92.4 L77.5,92.5 L82.2,93.6 L84.8,95.1 L85.5,97.6 L87.0,102.6 L88.2,106.1 L89.0,110.0 M103.7,39.8 L101.2,39.9 L97.4,41.7 L94.0,42.5 L90.1,44.7 L86.8,46.3 L84.8,47.7 L84.4,50.4 L82.8,53.3 L81.6,55.4 M83.6,24.2 L83.5,27.4 L88.5,27.7 L92.4,26.2 L94.2,28.6 L93.5,32.9 L94.7,35.4 L100.5,35.0 L102.2,34.8 M92.9,26.5 L97.0,24.1 L100.3,26.8 L101.8,26.1 L105.5,24.1 M82.0,54.9 L80.0,58.3 L78.6,61.4 L78.7,62.9 L80.7,65.4 L82.6,67.8 L86.5,68.0 L89.6,69.9 L92.3,67.0 L96.3,69.8 L99.9,69.6 L106.1,69.4 L110.2,67.6 L112.1,66.5 L115.0,64.6 L117.0,63.2 M89.3,69.7 L90.6,72.2 L86.2,74.5 L83.7,75.0 L82.1,78.0 L79.8,81.8 L80.9,85.0 L84.1,85.2 L87.1,85.6 L87.7,89.5 L84.8,91.7 L82.4,93.3 M94.9,69.7 L98.2,71.4 L99.9,73.5 L102.9,74.8 L105.3,77.5 L106.5,81.3 L110.4,83.1 L111.4,86.7 L108.5,90.0 L107.3,94.9 L109.6,97.8 L114.0,98.7 L116.5,101.1 L120.3,102.4 M38.0,107.9 L43.4,106.2 L46.1,106.7 L49.3,108.2 L52.0,108.2 L55.5,108.8 L60.1,110.0 L62.8,111.4 L65.5,112.7 L67.0,113.9 L71.5,115.3 L74.7,113.1 L77.8,112.1 L80.8,110.7 L83.8,110.4 L86.5,109.5 L89.4,108.3 L87.5,103.1 L85.9,100.5 L84.2,96.6 L85.9,92.4 L87.3,90.1 M89.1,107.8 L93.1,110.2 L96.7,110.3 L100.3,111.7 L103.8,112.3 L106.3,114.0 L103.4,115.8 L104.9,119.1 L107.1,120.6 M70.9,114.1 L72.3,120.1 L70.6,121.6 L69.5,125.1 L68.6,127.6 L68.7,129.1 L69.3,132.5 L69.9,136.2 L70.2,137.1 L72.4,140.2 L70.4,145.0 L72.3,148.1 L74.2,149.4 M106.4,120.1 L104.3,122.9 L102.2,124.3 L97.4,126.4 L97.0,128.9 L95.6,131.9 L93.3,133.0 L92.7,135.7 L90.2,139.5 L90.4,142.6 L89.3,144.0 L86.6,146.4 L86.5,148.7 L84.9,151.1 M107.2,120.8 L109.3,122.3 L110.7,125.4 L114.4,126.7 L116.5,128.6 L118.7,130.5 L122.0,130.5 M105.5,113.3 L108.5,112.2 L111.0,109.7 L113.2,108.1 L114.2,105.9 L117.0,102.7 L119.9,100.2 L119.2,97.1 L119.6,92.7 L120.3,90.1 M38.0,140.8 L40.8,139.8 L42.4,138.7 L47.1,140.0 L48.2,144.4 L45.7,147.6 L49.0,149.2 L51.5,150.1 L54.3,148.2 L56.4,147.6 L60.2,147.3 L64.3,144.8 L68.1,145.6 L70.7,147.1 L74.8,148.7 L75.2,151.2 L81.5,152.8 L85.4,151.9 L89.0,150.1 L92.1,152.3 L95.0,157.7 L96.4,160.6 L98.1,161.8 M54.1,150.2 L54.3,152.9 L53.2,155.6 L51.1,157.9 L49.0,162.2 L47.6,164.0 L46.2,166.0 L45.0,169.2 L42.5,171.4 L42.3,173.2 L39.8,175.8 L39.5,179.9 M175.8,40.5 L178.3,39.8 L182.5,37.3 L184.7,36.8 L187.1,36.0 L190.3,36.0" fill="none" stroke="#808080" stroke-width="0.8" stroke-linejoin="round"/>
<rect x="37.5" y="23.4" width="16.6" height="18.6" fill="#fff"/>
<rect x="38.9" y="181.3" width="59.8" height="39.6" fill="#fff" stroke="#b4b4b4" stroke-width="0.6"/>
<path d="M153.0,66.9 L141.0,80.2 L135.5,91.2 L136.1,96.2 L137.4,100.9 L140.2,110.1 L142.5,118.3 L146.6,126.6 L150.3,134.8 L153.5,139.4 L154.8,145.0 L157.0,150.5 L158.6,156.0 L159.7,161.5 L162.5,166.0 L169.0,172.5 L174.4,178.9 L175.8,181.6" fill="none" stroke="#ff0000" stroke-width="1.5" stroke-linejoin="round" stroke-linecap="round"/><circle cx="153.0" cy="66.9" r="1.25" fill="#ff0000"/><circle cx="141.0" cy="80.2" r="1.25" fill="#ff0000"/><circle cx="135.5" cy="91.2" r="1.25" fill="#ff0000"/><circle cx="136.1" cy="96.2" r="1.25" fill="#ff0000"/><circle cx="137.4" cy="100.9" r="1.25" fill="#ff0000"/><circle cx="140.2" cy="110.1" r="1.25" fill="#ff0000"/><circle cx="142.5" cy="118.3" r="1.25" fill="#ff0000"/><circle cx="146.6" cy="126.6" r="1.25" fill="#ff0000"/><circle cx="150.3" cy="134.8" r="1.25" fill="#ff0000"/><circle cx="153.5" cy="139.4" r="1.25" fill="#ff0000"/><circle cx="154.8" cy="145.0" r="1.25" fill="#ff0000"/><circle cx="157.0" cy="150.5" r="1.25" fill="#ff0000"/><circle cx="158.6" cy="156.0" r="1.25" fill="#ff0000"/><circle cx="159.7" cy="161.5" r="1.25" fill="#ff0000"/><circle cx="162.5" cy="166.0" r="1.25" fill="#ff0000"/><circle cx="169.0" cy="172.5" r="1.25" fill="#ff0000"/><circle cx="174.4" cy="178.9" r="1.25" fill="#ff0000"/><circle cx="175.8" cy="181.6" r="1.25" fill="#ff0000"/><circle cx="153.0" cy="66.9" r="1.6" fill="#ff0000"/><circle cx="175.8" cy="181.6" r="1.6" fill="#ff0000"/>
<path d="M126.0,92.5 L125.1,96.2 L124.2,100.9 L125.5,107.3 L128.3,114.7 L133.3,119.7 L137.9,125.2 L140.9,128.0 L145.9,134.8 L150.4,140.9 L155.3,145.8 L156.5,149.6 L158.3,153.7 L160.6,158.7 L163.8,164.2 L166.1,167.9" fill="none" stroke="#0000ff" stroke-width="1.5" stroke-linejoin="round" stroke-linecap="round"/><circle cx="126.0" cy="92.5" r="1.25" fill="#0000ff"/><circle cx="125.1" cy="96.2" r="1.25" fill="#0000ff"/><circle cx="124.2" cy="100.9" r="1.25" fill="#0000ff"/><circle cx="125.5" cy="107.3" r="1.25" fill="#0000ff"/><circle cx="128.3" cy="114.7" r="1.25" fill="#0000ff"/><circle cx="133.3" cy="119.7" r="1.25" fill="#0000ff"/><circle cx="137.9" cy="125.2" r="1.25" fill="#0000ff"/><circle cx="140.9" cy="128.0" r="1.25" fill="#0000ff"/><circle cx="145.9" cy="134.8" r="1.25" fill="#0000ff"/><circle cx="150.4" cy="140.9" r="1.25" fill="#0000ff"/><circle cx="155.3" cy="145.8" r="1.25" fill="#0000ff"/><circle cx="156.5" cy="149.6" r="1.25" fill="#0000ff"/><circle cx="158.3" cy="153.7" r="1.25" fill="#0000ff"/><circle cx="160.6" cy="158.7" r="1.25" fill="#0000ff"/><circle cx="163.8" cy="164.2" r="1.25" fill="#0000ff"/><circle cx="166.1" cy="167.9" r="1.25" fill="#0000ff"/><circle cx="126.0" cy="92.5" r="1.6" fill="#0000ff"/><circle cx="166.1" cy="167.9" r="1.6" fill="#0000ff"/>
<path d="M128.3,68.7 L126.9,74.2 L124.2,82.0 L121.4,89.8 L120.9,94.4 L122.3,99.9 L124.6,101.5 L126.4,106.4 L129.2,112.8 L135.1,119.2 L141.1,126.1 L146.1,134.3 L150.7,141.2 L153.3,145.0 L154.2,149.6 L156.9,155.1 L159.2,162.4 L163.8,166.1 L168.4,169.3 L173.4,176.1 L177.5,183.5" fill="none" stroke="#00ff00" stroke-width="1.5" stroke-linejoin="round" stroke-linecap="round"/><circle cx="128.3" cy="68.7" r="1.25" fill="#00ff00"/><circle cx="126.9" cy="74.2" r="1.25" fill="#00ff00"/><circle cx="124.2" cy="82.0" r="1.25" fill="#00ff00"/><circle cx="121.4" cy="89.8" r="1.25" fill="#00ff00"/><circle cx="120.9" cy="94.4" r="1.25" fill="#00ff00"/><circle cx="122.3" cy="99.9" r="1.25" fill="#00ff00"/><circle cx="124.6" cy="101.5" r="1.25" fill="#00ff00"/><circle cx="126.4" cy="106.4" r="1.25" fill="#00ff00"/><circle cx="129.2" cy="112.8" r="1.25" fill="#00ff00"/><circle cx="135.1" cy="119.2" r="1.25" fill="#00ff00"/><circle cx="141.1" cy="126.1" r="1.25" fill="#00ff00"/><circle cx="146.1" cy="134.3" r="1.25" fill="#00ff00"/><circle cx="150.7" cy="141.2" r="1.25" fill="#00ff00"/><circle cx="153.3" cy="145.0" r="1.25" fill="#00ff00"/><circle cx="154.2" cy="149.6" r="1.25" fill="#00ff00"/><circle cx="156.9" cy="155.1" r="1.25" fill="#00ff00"/><circle cx="159.2" cy="162.4" r="1.25" fill="#00ff00"/><circle cx="163.8" cy="166.1" r="1.25" fill="#00ff00"/><circle cx="168.4" cy="169.3" r="1.25" fill="#00ff00"/><circle cx="173.4" cy="176.1" r="1.25" fill="#00ff00"/><circle cx="177.5" cy="183.5" r="1.25" fill="#00ff00"/><circle cx="128.3" cy="68.7" r="1.6" fill="#00ff00"/><circle cx="177.5" cy="183.5" r="1.6" fill="#00ff00"/>
<path d="M131.2,65.1 L127.0,73.8 L124.7,87.0 L121.9,101.0 L123.7,109.2 L126.0,118.3 L130.1,126.6 L135.2,133.9 L141.6,138.5 L143.9,145.5 L149.7,148.7 L152.4,154.2 L154.7,161.0 L157.0,165.6 L162.5,169.5 L170.3,174.3 L179.7,179.6" fill="none" stroke="#000000" stroke-width="1.5" stroke-linejoin="round" stroke-linecap="round"/><circle cx="131.2" cy="65.1" r="1.25" fill="#000000"/><circle cx="127.0" cy="73.8" r="1.25" fill="#000000"/><circle cx="124.7" cy="87.0" r="1.25" fill="#000000"/><circle cx="121.9" cy="101.0" r="1.25" fill="#000000"/><circle cx="123.7" cy="109.2" r="1.25" fill="#000000"/><circle cx="126.0" cy="118.3" r="1.25" fill="#000000"/><circle cx="130.1" cy="126.6" r="1.25" fill="#000000"/><circle cx="135.2" cy="133.9" r="1.25" fill="#000000"/><circle cx="141.6" cy="138.5" r="1.25" fill="#000000"/><circle cx="143.9" cy="145.5" r="1.25" fill="#000000"/><circle cx="149.7" cy="148.7" r="1.25" fill="#000000"/><circle cx="152.4" cy="154.2" r="1.25" fill="#000000"/><circle cx="154.7" cy="161.0" r="1.25" fill="#000000"/><circle cx="157.0" cy="165.6" r="1.25" fill="#000000"/><circle cx="162.5" cy="169.5" r="1.25" fill="#000000"/><circle cx="170.3" cy="174.3" r="1.25" fill="#000000"/><circle cx="179.7" cy="179.6" r="1.25" fill="#000000"/><circle cx="131.2" cy="65.1" r="1.6" fill="#000000"/><circle cx="179.7" cy="179.6" r="1.6" fill="#000000"/>
</g>
<circle cx="48.6" cy="187.4" r="2.55" fill="#00ff00"/>
<text x="58.1" y="189.6" font-size="6.0" class="t" style="stroke-width:0.25px">ALLSKY</text>
<circle cx="48.6" cy="196.6" r="2.55" fill="#0000ff"/>
<text x="58.1" y="198.8" font-size="6.0" class="t" style="stroke-width:0.25px">CLEARSKY</text>
<circle cx="48.6" cy="205.8" r="2.55" fill="#ff0000"/>
<text x="58.1" y="208.0" font-size="6.0" class="t" style="stroke-width:0.25px">CONTROL</text>
<circle cx="48.6" cy="215.0" r="2.55" fill="#000000"/>
<text x="58.1" y="217.2" font-size="6.0" class="t" style="stroke-width:0.25px">BEST_TRACK</text>
<text x="40.1" y="38.7" font-size="11.9" class="dj">b)</text>
<path d="M54.1,232.5 v3.4 M54.1,23.4 v-3.4 M70.8,232.5 v3.4 M70.8,23.4 v-3.4 M87.4,232.5 v3.4 M87.4,23.4 v-3.4 M104.1,232.5 v3.4 M104.1,23.4 v-3.4 M137.4,232.5 v3.4 M137.4,23.4 v-3.4 M154.0,232.5 v3.4 M154.0,23.4 v-3.4 M170.7,232.5 v3.4 M170.7,23.4 v-3.4 M187.3,232.5 v3.4 M187.3,23.4 v-3.4 M220.6,232.5 v3.4 M220.6,23.4 v-3.4 M237.3,232.5 v3.4 M237.3,23.4 v-3.4 M37.5,224.1 h-3.4 M245.6,224.1 h3.4 M37.5,207.4 h-3.4 M245.6,207.4 h3.4 M37.5,174.0 h-3.4 M245.6,174.0 h3.4 M37.5,157.2 h-3.4 M245.6,157.2 h3.4 M37.5,140.5 h-3.4 M245.6,140.5 h3.4 M37.5,123.8 h-3.4 M245.6,123.8 h3.4 M37.5,90.3 h-3.4 M245.6,90.3 h3.4 M37.5,73.6 h-3.4 M245.6,73.6 h3.4 M37.5,56.9 h-3.4 M245.6,56.9 h3.4 M37.5,40.1 h-3.4 M245.6,40.1 h3.4" stroke="#b0b0b0" stroke-width="0.7" fill="none"/>
<path d="M37.5,232.5 v6.8 M37.5,23.4 v-6.8 M120.7,232.5 v6.8 M120.7,23.4 v-6.8 M204.0,232.5 v6.8 M204.0,23.4 v-6.8 M37.5,190.7 h-7.6 M245.6,190.7 h6.8 M37.5,107.0 h-7.6 M245.6,107.0 h6.8 M37.5,23.4 h-7.6 M245.6,23.4 h6.8" stroke="#6c6c6c" stroke-width="0.8" fill="none"/>
<rect x="37.5" y="23.4" width="208.1" height="209.1" fill="none" stroke="#6c6c6c" stroke-width="0.85"/>
<text x="37.5" y="253.7" font-size="9.4" text-anchor="middle" class="t">110E</text>
<text x="120.7" y="253.7" font-size="9.4" text-anchor="middle" class="t">120E</text>
<text x="204.0" y="253.7" font-size="9.4" text-anchor="middle" class="t">130E</text>
<text x="23.6" y="194.1" font-size="9.4" text-anchor="end" class="t">20N</text>
<text x="23.6" y="110.4" font-size="9.4" text-anchor="end" class="t">30N</text>
<text x="23.6" y="26.8" font-size="9.4" text-anchor="end" class="t">40N</text>
<text x="246.1" y="12.8" font-size="12.1" text-anchor="end" class="t" textLength="69.9" lengthAdjust="spacingAndGlyphs">OLNY FY-3D</text>
</g>
<g>
<rect x="63.3" y="308.8" width="77.7" height="35.3" fill="#fff" stroke="#cfcfcf" stroke-width="0.7"/>
<path d="M64.6,316 H93.7" stroke="#00ff00" stroke-width="1.7" stroke-dasharray="1.6 0.9"/>
<path d="M64.6,326.7 H93.7" stroke="#0000ff" stroke-width="1.5" stroke-dasharray="4.6 1.4"/>
<path d="M64.6,337.3 H93.7" stroke="#ff0000" stroke-width="1.5"/>
<text x="94.1" y="319.4" font-size="9.4" class="t">ALLSKY</text>
<text x="94.1" y="330.0" font-size="9.4" class="t">CLEAR</text>
<text x="94.1" y="340.7" font-size="9.4" class="t">CONTROL</text>
<path d="M50.4,455.0 L64.5,466.4 L78.5,450.0 L92.6,454.0 L106.7,451.0 L120.7,440.0 L134.8,423.7 L148.9,371.9 L162.9,358.5 L177.0,355.3 L191.1,357.9 L205.1,353.3 L219.2,367.9 L233.3,403.9 L247.3,367.9 L261.4,318.9" fill="none" stroke="#ff0000" stroke-width="1.5" stroke-linejoin="round"/>
<path d="M50.4,455.0 L64.5,466.4 L78.5,450.0 L92.6,440.5 L106.7,451.6 L120.7,432.3 L134.8,427.0 L148.9,376.9 L162.9,357.9 L177.0,335.5 L191.1,340.3 L205.1,369.9 L219.2,384.9 L233.3,392.9 L247.3,378.5 L261.4,395.9" fill="none" stroke="#0000ff" stroke-width="1.5" stroke-dasharray="5.1 1.5" stroke-linejoin="round"/>
<path d="M50.4,455.0 L64.5,466.4 L78.5,450.0 L92.6,461.9 L106.7,486.0 L120.7,488.0 L134.8,480.0 L148.9,447.0 L162.9,452.9 L177.0,443.5 L191.1,455.6 L205.1,474.4 L219.2,487.0 L233.3,467.3 L247.3,478.7 L261.4,427.3" fill="none" stroke="#00ff00" stroke-width="1.7" stroke-dasharray="1.6 0.9" stroke-linejoin="round"/>
<path d="M50.4,491.8 h-2.6 M261.4,491.8 h2.6 M50.4,484.3 h-2.6 M261.4,484.3 h2.6 M50.4,476.7 h-2.6 M261.4,476.7 h2.6 M50.4,461.6 h-2.6 M261.4,461.6 h2.6 M50.4,454.0 h-2.6 M261.4,454.0 h2.6 M50.4,446.4 h-2.6 M261.4,446.4 h2.6 M50.4,431.3 h-2.6 M261.4,431.3 h2.6 M50.4,423.7 h-2.6 M261.4,423.7 h2.6 M50.4,416.2 h-2.6 M261.4,416.2 h2.6 M50.4,401.0 h-2.6 M261.4,401.0 h2.6 M50.4,393.4 h-2.6 M261.4,393.4 h2.6 M50.4,385.9 h-2.6 M261.4,385.9 h2.6 M50.4,370.7 h-2.6 M261.4,370.7 h2.6 M50.4,363.2 h-2.6 M261.4,363.2 h2.6 M50.4,355.6 h-2.6 M261.4,355.6 h2.6 M50.4,340.5 h-2.6 M261.4,340.5 h2.6 M50.4,332.9 h-2.6 M261.4,332.9 h2.6 M50.4,325.3 h-2.6 M261.4,325.3 h2.6 M50.4,310.2 h-2.6 M261.4,310.2 h2.6 M50.4,302.6 h-2.6 M261.4,302.6 h2.6 M50.4,295.1 h-2.6 M261.4,295.1 h2.6" stroke="#c6c6c6" stroke-width="0.7" fill="none"/>
<path d="M50.4,499.4 v5.1 M50.4,287.5 v-5.1 M78.5,499.4 v5.1 M78.5,287.5 v-5.1 M106.7,499.4 v5.1 M106.7,287.5 v-5.1 M134.8,499.4 v5.1 M134.8,287.5 v-5.1 M162.9,499.4 v5.1 M162.9,287.5 v-5.1 M191.1,499.4 v5.1 M191.1,287.5 v-5.1 M219.2,499.4 v5.1 M219.2,287.5 v-5.1 M247.3,499.4 v5.1 M247.3,287.5 v-5.1 M50.4,499.4 h-5.5 M261.4,499.4 h5 M50.4,469.1 h-5.5 M261.4,469.1 h5 M50.4,438.9 h-5.5 M261.4,438.9 h5 M50.4,408.6 h-5.5 M261.4,408.6 h5 M50.4,378.3 h-5.5 M261.4,378.3 h5 M50.4,348.0 h-5.5 M261.4,348.0 h5 M50.4,317.8 h-5.5 M261.4,317.8 h5 M50.4,287.5 h-5.5 M261.4,287.5 h5" stroke="#868686" stroke-width="0.8" fill="none"/>
<rect x="50.4" y="287.5" width="211.0" height="211.9" fill="none" stroke="#868686" stroke-width="0.85"/>
<text x="37.9" y="502.8" font-size="9.4" text-anchor="end" class="t">0</text>
<text x="37.9" y="472.5" font-size="9.4" text-anchor="end" class="t">40</text>
<text x="37.9" y="442.2" font-size="9.4" text-anchor="end" class="t">80</text>
<text x="37.9" y="411.9" font-size="9.4" text-anchor="end" class="t">120</text>
<text x="37.9" y="381.7" font-size="9.4" text-anchor="end" class="t">160</text>
<text x="37.9" y="351.4" font-size="9.4" text-anchor="end" class="t">200</text>
<text x="37.9" y="321.1" font-size="9.4" text-anchor="end" class="t">240</text>
<text x="37.9" y="290.9" font-size="9.4" text-anchor="end" class="t">280</text>
<text transform="translate(53.0,514.6) rotate(-45)" x="0" y="3.3" font-size="9.4" text-anchor="middle" class="t">0112</text>
<text transform="translate(81.1,514.6) rotate(-45)" x="0" y="3.3" font-size="9.4" text-anchor="middle" class="t">0200</text>
<text transform="translate(109.3,514.6) rotate(-45)" x="0" y="3.3" font-size="9.4" text-anchor="middle" class="t">0212</text>
<text transform="translate(137.4,514.6) rotate(-45)" x="0" y="3.3" font-size="9.4" text-anchor="middle" class="t">0300</text>
<text transform="translate(165.5,514.6) rotate(-45)" x="0" y="3.3" font-size="9.4" text-anchor="middle" class="t">0312</text>
<text transform="translate(193.7,514.6) rotate(-45)" x="0" y="3.3" font-size="9.4" text-anchor="middle" class="t">0400</text>
<text transform="translate(221.8,514.6) rotate(-45)" x="0" y="3.3" font-size="9.4" text-anchor="middle" class="t">0412</text>
<text transform="translate(249.9,514.6) rotate(-45)" x="0" y="3.3" font-size="9.4" text-anchor="middle" class="t">0500</text>
<text x="156.2" y="541.6" font-size="11.8" text-anchor="middle" class="t">TIME</text>
<text transform="translate(12.8,393) rotate(-90)" font-size="12.1" text-anchor="middle" class="t">TRACK ERROR (KM)</text>
<text x="54.0" y="300.7" font-size="11.7" class="dj">c)</text>
<text x="261.5" y="280.8" font-size="9.1" text-anchor="end" class="t" textLength="52.9" lengthAdjust="spacingAndGlyphs">OLNY FY-3C</text>
</g>
<g>
<rect x="340.7" y="308.8" width="77.7" height="35.3" fill="#fff" stroke="#cfcfcf" stroke-width="0.7"/>
<path d="M342.0,316 H371.1" stroke="#00ff00" stroke-width="1.7" stroke-dasharray="1.6 0.9"/>
<path d="M342.0,326.7 H371.1" stroke="#0000ff" stroke-width="1.5" stroke-dasharray="4.6 1.4"/>
<path d="M342.0,337.3 H371.1" stroke="#ff0000" stroke-width="1.5"/>
<text x="371.5" y="319.4" font-size="9.4" class="t">ALLSKY</text>
<text x="371.5" y="330.0" font-size="9.4" class="t">CLEAR</text>
<text x="371.5" y="340.7" font-size="9.4" class="t">CONTROL</text>
<path d="M327.8,455.0 L341.8,466.4 L355.9,450.0 L369.9,454.0 L384.0,451.0 L398.1,440.0 L412.1,423.7 L426.2,371.9 L440.3,358.5 L454.3,355.3 L468.4,357.9 L482.4,353.3 L496.5,367.9 L510.6,403.9 L524.6,367.9 L538.7,318.9" fill="none" stroke="#ff0000" stroke-width="1.5" stroke-linejoin="round"/>
<path d="M327.8,455.0 L341.8,466.4 L355.9,450.0 L369.9,442.9 L384.0,446.4 L398.1,436.6 L412.1,414.9 L426.2,353.9 L440.3,335.5 L454.3,339.4 L468.4,348.6 L482.4,357.9 L496.5,353.9 L510.6,317.5 L524.6,311.0 L538.7,320.9" fill="none" stroke="#0000ff" stroke-width="1.5" stroke-dasharray="5.1 1.5" stroke-linejoin="round"/>
<path d="M327.8,455.0 L341.8,466.4 L355.9,450.0 L369.9,454.4 L384.0,461.0 L398.1,465.0 L412.1,458.8 L426.2,412.4 L440.3,407.2 L454.3,413.4 L468.4,436.3 L482.4,443.9 L496.5,463.3 L510.6,418.4 L524.6,417.1 L538.7,453.1" fill="none" stroke="#00ff00" stroke-width="1.7" stroke-dasharray="1.6 0.9" stroke-linejoin="round"/>
<path d="M327.75,491.8 h-2.6 M538.7,491.8 h2.6 M327.75,484.3 h-2.6 M538.7,484.3 h2.6 M327.75,476.7 h-2.6 M538.7,476.7 h2.6 M327.75,461.6 h-2.6 M538.7,461.6 h2.6 M327.75,454.0 h-2.6 M538.7,454.0 h2.6 M327.75,446.4 h-2.6 M538.7,446.4 h2.6 M327.75,431.3 h-2.6 M538.7,431.3 h2.6 M327.75,423.7 h-2.6 M538.7,423.7 h2.6 M327.75,416.2 h-2.6 M538.7,416.2 h2.6 M327.75,401.0 h-2.6 M538.7,401.0 h2.6 M327.75,393.4 h-2.6 M538.7,393.4 h2.6 M327.75,385.9 h-2.6 M538.7,385.9 h2.6 M327.75,370.7 h-2.6 M538.7,370.7 h2.6 M327.75,363.2 h-2.6 M538.7,363.2 h2.6 M327.75,355.6 h-2.6 M538.7,355.6 h2.6 M327.75,340.5 h-2.6 M538.7,340.5 h2.6 M327.75,332.9 h-2.6 M538.7,332.9 h2.6 M327.75,325.3 h-2.6 M538.7,325.3 h2.6 M327.75,310.2 h-2.6 M538.7,310.2 h2.6 M327.75,302.6 h-2.6 M538.7,302.6 h2.6 M327.75,295.1 h-2.6 M538.7,295.1 h2.6" stroke="#c6c6c6" stroke-width="0.7" fill="none"/>
<path d="M327.8,499.4 v5.1 M327.8,287.5 v-5.1 M355.9,499.4 v5.1 M355.9,287.5 v-5.1 M384.0,499.4 v5.1 M384.0,287.5 v-5.1 M412.1,499.4 v5.1 M412.1,287.5 v-5.1 M440.3,499.4 v5.1 M440.3,287.5 v-5.1 M468.4,499.4 v5.1 M468.4,287.5 v-5.1 M496.5,499.4 v5.1 M496.5,287.5 v-5.1 M524.6,499.4 v5.1 M524.6,287.5 v-5.1 M327.75,499.4 h-5.5 M538.7,499.4 h5 M327.75,469.1 h-5.5 M538.7,469.1 h5 M327.75,438.9 h-5.5 M538.7,438.9 h5 M327.75,408.6 h-5.5 M538.7,408.6 h5 M327.75,378.3 h-5.5 M538.7,378.3 h5 M327.75,348.0 h-5.5 M538.7,348.0 h5 M327.75,317.8 h-5.5 M538.7,317.8 h5 M327.75,287.5 h-5.5 M538.7,287.5 h5" stroke="#868686" stroke-width="0.8" fill="none"/>
<rect x="327.75" y="287.5" width="211.0" height="211.9" fill="none" stroke="#868686" stroke-width="0.85"/>
<text x="315.2" y="502.8" font-size="9.4" text-anchor="end" class="t">0</text>
<text x="315.2" y="472.5" font-size="9.4" text-anchor="end" class="t">40</text>
<text x="315.2" y="442.2" font-size="9.4" text-anchor="end" class="t">80</text>
<text x="315.2" y="411.9" font-size="9.4" text-anchor="end" class="t">120</text>
<text x="315.2" y="381.7" font-size="9.4" text-anchor="end" class="t">160</text>
<text x="315.2" y="351.4" font-size="9.4" text-anchor="end" class="t">200</text>
<text x="315.2" y="321.1" font-size="9.4" text-anchor="end" class="t">240</text>
<text x="315.2" y="290.9" font-size="9.4" text-anchor="end" class="t">280</text>
<text transform="translate(330.4,514.6) rotate(-45)" x="0" y="3.3" font-size="9.4" text-anchor="middle" class="t">0112</text>
<text transform="translate(358.5,514.6) rotate(-45)" x="0" y="3.3" font-size="9.4" text-anchor="middle" class="t">0200</text>
<text transform="translate(386.6,514.6) rotate(-45)" x="0" y="3.3" font-size="9.4" text-anchor="middle" class="t">0212</text>
<text transform="translate(414.7,514.6) rotate(-45)" x="0" y="3.3" font-size="9.4" text-anchor="middle" class="t">0300</text>
<text transform="translate(442.9,514.6) rotate(-45)" x="0" y="3.3" font-size="9.4" text-anchor="middle" class="t">0312</text>
<text transform="translate(471.0,514.6) rotate(-45)" x="0" y="3.3" font-size="9.4" text-anchor="middle" class="t">0400</text>
<text transform="translate(499.1,514.6) rotate(-45)" x="0" y="3.3" font-size="9.4" text-anchor="middle" class="t">0412</text>
<text transform="translate(527.2,514.6) rotate(-45)" x="0" y="3.3" font-size="9.4" text-anchor="middle" class="t">0500</text>
<text x="433.5" y="541.6" font-size="11.8" text-anchor="middle" class="t">TIME</text>
<text transform="translate(290.2,393) rotate(-90)" font-size="12.1" text-anchor="middle" class="t">TRACK ERROR (KM)</text>
<text x="331.4" y="300.7" font-size="11.7" class="dj">d)</text>
<text x="538.8" y="280.8" font-size="9.1" text-anchor="end" class="t" textLength="52.9" lengthAdjust="spacingAndGlyphs">OLNY FY-3D</text>
</g>
</svg>
</body>
</html>
